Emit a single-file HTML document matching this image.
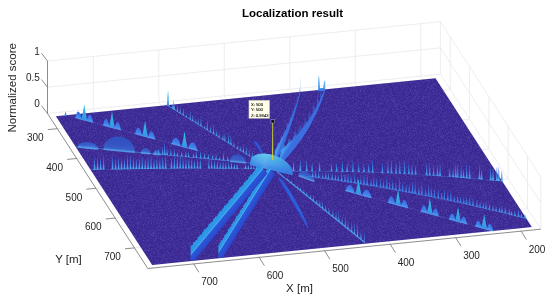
<!DOCTYPE html>
<html><head><meta charset="utf-8"><title>Localization result</title>
<style>html,body{margin:0;padding:0;background:#fff;overflow:hidden}</style></head>
<body>
<svg width="550" height="300" viewBox="0 0 550 300" style="display:block;font-family:'Liberation Sans',sans-serif">
<defs><filter id="nz" x="0" y="0" width="1" height="1" color-interpolation-filters="sRGB"><feTurbulence type="fractalNoise" baseFrequency="1.6" numOctaves="1" seed="3" result="t"/><feColorMatrix type="matrix" values="0 0 0 0 0.47  0 0 0 0 0.40  0 0 0 0 0.78  1.1 0 0 0 -0.44"/></filter><filter id="soft" x="-2%" y="-5%" width="104%" height="110%"><feGaussianBlur stdDeviation="0.32"/></filter><linearGradient id="r0" gradientUnits="userSpaceOnUse" x1="262" y1="169.3" x2="261.8" y2="116.8"><stop offset="0" stop-color="#4fb0ee"/><stop offset="0.05" stop-color="#449cec"/><stop offset="0.12" stop-color="#3b82e8"/><stop offset="0.25" stop-color="#3868e0"/><stop offset="0.5" stop-color="#3560d8"/></linearGradient>
<linearGradient id="r1" gradientUnits="userSpaceOnUse" x1="290" y1="171.3" x2="292.5" y2="118.9"><stop offset="0" stop-color="#4fb0ee"/><stop offset="0.05" stop-color="#449cec"/><stop offset="0.12" stop-color="#3b82e8"/><stop offset="0.25" stop-color="#3868e0"/><stop offset="0.5" stop-color="#3560d8"/></linearGradient>
<linearGradient id="r2" gradientUnits="userSpaceOnUse" x1="255" y1="163.6" x2="259.9" y2="111.6"><stop offset="0" stop-color="#4aa2ea"/><stop offset="0.05" stop-color="#4090e8"/><stop offset="0.12" stop-color="#3a78e4"/><stop offset="0.25" stop-color="#3864dc"/><stop offset="0.5" stop-color="#3560d8"/></linearGradient>
<linearGradient id="r3" gradientUnits="userSpaceOnUse" x1="170" y1="155.6" x2="174.9" y2="103.5"><stop offset="0" stop-color="#4aa2ea"/><stop offset="0.05" stop-color="#4090e8"/><stop offset="0.12" stop-color="#3a78e4"/><stop offset="0.25" stop-color="#3864dc"/><stop offset="0.5" stop-color="#3560d8"/></linearGradient>
<linearGradient id="r4" gradientUnits="userSpaceOnUse" x1="103.4" y1="149.2" x2="108.3" y2="97.2"><stop offset="0" stop-color="#58a4ea"/><stop offset="0.015" stop-color="#4584e0"/><stop offset="0.04" stop-color="#3964d0"/><stop offset="0.12" stop-color="#3358c8"/><stop offset="0.4" stop-color="#3050c0"/></linearGradient>
<linearGradient id="r5" gradientUnits="userSpaceOnUse" x1="77.6" y1="146.8" x2="82.5" y2="94.8"><stop offset="0" stop-color="#58a4ea"/><stop offset="0.015" stop-color="#4584e0"/><stop offset="0.04" stop-color="#3964d0"/><stop offset="0.12" stop-color="#3358c8"/><stop offset="0.4" stop-color="#3050c0"/></linearGradient>
<linearGradient id="r6" gradientUnits="userSpaceOnUse" x1="84.5" y1="147.4" x2="89.4" y2="95.4"><stop offset="0" stop-color="#4f9cf0"/><stop offset="0.04" stop-color="#3f80ea"/><stop offset="0.1" stop-color="#3a70e4"/><stop offset="0.3" stop-color="#3868e0"/></linearGradient>
<linearGradient id="r7" gradientUnits="userSpaceOnUse" x1="140.9" y1="152.8" x2="145.8" y2="100.8"><stop offset="0" stop-color="#58a4ea"/><stop offset="0.015" stop-color="#4584e0"/><stop offset="0.04" stop-color="#3964d0"/><stop offset="0.12" stop-color="#3358c8"/><stop offset="0.4" stop-color="#3050c0"/></linearGradient>
<linearGradient id="r8" gradientUnits="userSpaceOnUse" x1="153.2" y1="154" x2="158.1" y2="101.9"><stop offset="0" stop-color="#58a4ea"/><stop offset="0.015" stop-color="#4584e0"/><stop offset="0.04" stop-color="#3964d0"/><stop offset="0.12" stop-color="#3358c8"/><stop offset="0.4" stop-color="#3050c0"/></linearGradient>
<linearGradient id="r9" gradientUnits="userSpaceOnUse" x1="230" y1="161.2" x2="234.9" y2="109.2"><stop offset="0" stop-color="#58a4ea"/><stop offset="0.015" stop-color="#4584e0"/><stop offset="0.04" stop-color="#3964d0"/><stop offset="0.12" stop-color="#3358c8"/><stop offset="0.4" stop-color="#3050c0"/></linearGradient>
<linearGradient id="r10" gradientUnits="userSpaceOnUse" x1="300" y1="175.5" x2="309.7" y2="124.9"><stop offset="0" stop-color="#4aa2ea"/><stop offset="0.05" stop-color="#4090e8"/><stop offset="0.12" stop-color="#3a78e4"/><stop offset="0.25" stop-color="#3864dc"/><stop offset="0.5" stop-color="#3560d8"/></linearGradient>
<linearGradient id="r11" gradientUnits="userSpaceOnUse" x1="298.5" y1="175.6" x2="315.3" y2="129.2"><stop offset="0" stop-color="#58a4ea"/><stop offset="0.015" stop-color="#4584e0"/><stop offset="0.04" stop-color="#3964d0"/><stop offset="0.12" stop-color="#3358c8"/><stop offset="0.4" stop-color="#3050c0"/></linearGradient>
<linearGradient id="r12" gradientUnits="userSpaceOnUse" x1="198" y1="150.5" x2="211.1" y2="101.5"><stop offset="0" stop-color="#4f9cf0"/><stop offset="0.04" stop-color="#3f80ea"/><stop offset="0.1" stop-color="#3a70e4"/><stop offset="0.3" stop-color="#3868e0"/></linearGradient>
<linearGradient id="r13" gradientUnits="userSpaceOnUse" x1="188" y1="147.8" x2="201.2" y2="98.9"><stop offset="0" stop-color="#3a90e8"/><stop offset="0.08" stop-color="#32a4e6"/><stop offset="0.18" stop-color="#2cb4e2"/><stop offset="0.3" stop-color="#3cc2da"/></linearGradient>
<linearGradient id="r14" gradientUnits="userSpaceOnUse" x1="155.6" y1="139.1" x2="168.8" y2="90.1"><stop offset="0" stop-color="#4f9cf0"/><stop offset="0.04" stop-color="#3f80ea"/><stop offset="0.1" stop-color="#3a70e4"/><stop offset="0.3" stop-color="#3868e0"/></linearGradient>
<linearGradient id="r15" gradientUnits="userSpaceOnUse" x1="148.6" y1="137.2" x2="161.8" y2="88.2"><stop offset="0" stop-color="#3a90e8"/><stop offset="0.08" stop-color="#32a4e6"/><stop offset="0.18" stop-color="#2cb4e2"/><stop offset="0.3" stop-color="#3cc2da"/></linearGradient>
<linearGradient id="r16" gradientUnits="userSpaceOnUse" x1="121.4" y1="129.9" x2="134.6" y2="80.9"><stop offset="0" stop-color="#4f9cf0"/><stop offset="0.04" stop-color="#3f80ea"/><stop offset="0.1" stop-color="#3a70e4"/><stop offset="0.3" stop-color="#3868e0"/></linearGradient>
<linearGradient id="r17" gradientUnits="userSpaceOnUse" x1="115.5" y1="128.3" x2="128.7" y2="79.3"><stop offset="0" stop-color="#3a90e8"/><stop offset="0.08" stop-color="#32a4e6"/><stop offset="0.18" stop-color="#2cb4e2"/><stop offset="0.3" stop-color="#3cc2da"/></linearGradient>
<linearGradient id="r18" gradientUnits="userSpaceOnUse" x1="93.7" y1="122.4" x2="106.9" y2="73.5"><stop offset="0" stop-color="#4f9cf0"/><stop offset="0.04" stop-color="#3f80ea"/><stop offset="0.1" stop-color="#3a70e4"/><stop offset="0.3" stop-color="#3868e0"/></linearGradient>
<linearGradient id="r19" gradientUnits="userSpaceOnUse" x1="87.8" y1="120.8" x2="101" y2="71.9"><stop offset="0" stop-color="#3a90e8"/><stop offset="0.08" stop-color="#32a4e6"/><stop offset="0.18" stop-color="#2cb4e2"/><stop offset="0.3" stop-color="#3cc2da"/></linearGradient>
<linearGradient id="r20" gradientUnits="userSpaceOnUse" x1="345.1" y1="190.4" x2="358.5" y2="141.5"><stop offset="0" stop-color="#4f9cf0"/><stop offset="0.04" stop-color="#3f80ea"/><stop offset="0.1" stop-color="#3a70e4"/><stop offset="0.3" stop-color="#3868e0"/></linearGradient>
<linearGradient id="r21" gradientUnits="userSpaceOnUse" x1="355" y1="193.1" x2="368.4" y2="144.2"><stop offset="0" stop-color="#3a90e8"/><stop offset="0.08" stop-color="#32a4e6"/><stop offset="0.18" stop-color="#2cb4e2"/><stop offset="0.3" stop-color="#3cc2da"/></linearGradient>
<linearGradient id="r22" gradientUnits="userSpaceOnUse" x1="387.6" y1="202" x2="401" y2="153.1"><stop offset="0" stop-color="#4f9cf0"/><stop offset="0.04" stop-color="#3f80ea"/><stop offset="0.1" stop-color="#3a70e4"/><stop offset="0.3" stop-color="#3868e0"/></linearGradient>
<linearGradient id="r23" gradientUnits="userSpaceOnUse" x1="394.6" y1="203.9" x2="407.9" y2="155"><stop offset="0" stop-color="#3a90e8"/><stop offset="0.08" stop-color="#32a4e6"/><stop offset="0.18" stop-color="#2cb4e2"/><stop offset="0.3" stop-color="#3cc2da"/></linearGradient>
<linearGradient id="r24" gradientUnits="userSpaceOnUse" x1="420.5" y1="211" x2="433.9" y2="162.1"><stop offset="0" stop-color="#4f9cf0"/><stop offset="0.04" stop-color="#3f80ea"/><stop offset="0.1" stop-color="#3a70e4"/><stop offset="0.3" stop-color="#3868e0"/></linearGradient>
<linearGradient id="r25" gradientUnits="userSpaceOnUse" x1="426.4" y1="212.6" x2="439.7" y2="163.7"><stop offset="0" stop-color="#3a90e8"/><stop offset="0.08" stop-color="#32a4e6"/><stop offset="0.18" stop-color="#2cb4e2"/><stop offset="0.3" stop-color="#3cc2da"/></linearGradient>
<linearGradient id="r26" gradientUnits="userSpaceOnUse" x1="448.7" y1="218.7" x2="462.1" y2="169.8"><stop offset="0" stop-color="#4f9cf0"/><stop offset="0.04" stop-color="#3f80ea"/><stop offset="0.1" stop-color="#3a70e4"/><stop offset="0.3" stop-color="#3868e0"/></linearGradient>
<linearGradient id="r27" gradientUnits="userSpaceOnUse" x1="454.6" y1="220.3" x2="467.9" y2="171.4"><stop offset="0" stop-color="#3a90e8"/><stop offset="0.08" stop-color="#32a4e6"/><stop offset="0.18" stop-color="#2cb4e2"/><stop offset="0.3" stop-color="#3cc2da"/></linearGradient>
<linearGradient id="r28" gradientUnits="userSpaceOnUse" x1="474.8" y1="225.8" x2="488.2" y2="177"><stop offset="0" stop-color="#4f9cf0"/><stop offset="0.04" stop-color="#3f80ea"/><stop offset="0.1" stop-color="#3a70e4"/><stop offset="0.3" stop-color="#3868e0"/></linearGradient>
<linearGradient id="r29" gradientUnits="userSpaceOnUse" x1="480.7" y1="227.4" x2="494.1" y2="178.6"><stop offset="0" stop-color="#3a90e8"/><stop offset="0.08" stop-color="#32a4e6"/><stop offset="0.18" stop-color="#2cb4e2"/><stop offset="0.3" stop-color="#3cc2da"/></linearGradient>
<linearGradient id="r30" gradientUnits="userSpaceOnUse" x1="63" y1="115" x2="74.6" y2="65.2"><stop offset="0" stop-color="#3a90e8"/><stop offset="0.08" stop-color="#32a4e6"/><stop offset="0.18" stop-color="#2cb4e2"/><stop offset="0.3" stop-color="#3cc2da"/></linearGradient>
<linearGradient id="r31" gradientUnits="userSpaceOnUse" x1="250" y1="162.3" x2="262" y2="112.7"><stop offset="0" stop-color="#3f8ee8"/><stop offset="0.05" stop-color="#489eec"/><stop offset="0.12" stop-color="#4aaeea"/><stop offset="0.2" stop-color="#55bcea"/><stop offset="0.3" stop-color="#6ccaee"/></linearGradient>
<linearGradient id="r32" gradientUnits="userSpaceOnUse" x1="264.5" y1="165.5" x2="288" y2="127.5"><stop offset="0" stop-color="#4fb0ee"/><stop offset="0.05" stop-color="#449cec"/><stop offset="0.12" stop-color="#3b82e8"/><stop offset="0.25" stop-color="#3868e0"/><stop offset="0.5" stop-color="#3560d8"/></linearGradient>
<linearGradient id="r33" gradientUnits="userSpaceOnUse" x1="176.9" y1="111.4" x2="200.4" y2="73.4"><stop offset="0" stop-color="#4fb0ee"/><stop offset="0.05" stop-color="#449cec"/><stop offset="0.12" stop-color="#3b82e8"/><stop offset="0.25" stop-color="#3868e0"/><stop offset="0.5" stop-color="#3560d8"/></linearGradient>
<linearGradient id="r34" gradientUnits="userSpaceOnUse" x1="172.4" y1="108.6" x2="195.9" y2="70.6"><stop offset="0" stop-color="#3a90e8"/><stop offset="0.08" stop-color="#32a4e6"/><stop offset="0.18" stop-color="#2cb4e2"/><stop offset="0.3" stop-color="#3cc2da"/></linearGradient>
<linearGradient id="r35" gradientUnits="userSpaceOnUse" x1="263.5" y1="156.3" x2="287.4" y2="140.8"><stop offset="0" stop-color="#2c50d4"/><stop offset="0.05" stop-color="#2c5cdc"/><stop offset="0.12" stop-color="#2f66e2"/></linearGradient>
<linearGradient id="r36" gradientUnits="userSpaceOnUse" x1="277" y1="171.8" x2="302.7" y2="140"><stop offset="0" stop-color="#4fb0ee"/><stop offset="0.05" stop-color="#449cec"/><stop offset="0.12" stop-color="#3b82e8"/><stop offset="0.25" stop-color="#3868e0"/><stop offset="0.5" stop-color="#3560d8"/></linearGradient>
<linearGradient id="r37" gradientUnits="userSpaceOnUse" x1="272.5" y1="169" x2="255.6" y2="162.9"><stop offset="0" stop-color="#3a6ee0"/><stop offset="0.04" stop-color="#3c84e8"/><stop offset="0.1" stop-color="#4098ee"/><stop offset="0.2" stop-color="#44a6f0"/><stop offset="0.3" stop-color="#4aaaf0"/><stop offset="0.45" stop-color="#3f8fe8"/></linearGradient>
<linearGradient id="r38" gradientUnits="userSpaceOnUse" x1="276" y1="168.5" x2="252.3" y2="153.6"><stop offset="0" stop-color="#3a6ee0"/><stop offset="0.04" stop-color="#3c84e8"/><stop offset="0.1" stop-color="#4098ee"/><stop offset="0.2" stop-color="#44a6f0"/><stop offset="0.3" stop-color="#4aaaf0"/><stop offset="0.45" stop-color="#3f8fe8"/></linearGradient>
<linearGradient id="r39" gradientUnits="userSpaceOnUse" x1="318.2" y1="91.4" x2="312.7" y2="39.5"><stop offset="0" stop-color="#3a6ee0"/><stop offset="0.04" stop-color="#3c84e8"/><stop offset="0.1" stop-color="#4098ee"/><stop offset="0.2" stop-color="#44a6f0"/><stop offset="0.3" stop-color="#4aaaf0"/><stop offset="0.45" stop-color="#3f8fe8"/></linearGradient>
<linearGradient id="r40" gradientUnits="userSpaceOnUse" x1="269.8" y1="170.6" x2="234" y2="140.6"><stop offset="0" stop-color="#2e40c0"/><stop offset="0.03" stop-color="#2b4cd0"/><stop offset="0.125" stop-color="#2a58d8"/><stop offset="0.14" stop-color="#4cb2f0"/><stop offset="0.158" stop-color="#2e9ae8"/><stop offset="0.3" stop-color="#2a92e6"/><stop offset="0.36" stop-color="#8fd4f4"/></linearGradient>
<linearGradient id="r41" gradientUnits="userSpaceOnUse" x1="277" y1="171" x2="238.3" y2="146.8"><stop offset="0" stop-color="#2e40c0"/><stop offset="0.03" stop-color="#2b4cd0"/><stop offset="0.125" stop-color="#2a58d8"/><stop offset="0.14" stop-color="#4cb2f0"/><stop offset="0.158" stop-color="#2e9ae8"/><stop offset="0.3" stop-color="#2a92e6"/><stop offset="0.36" stop-color="#8fd4f4"/></linearGradient>
<linearGradient id="r42" gradientUnits="userSpaceOnUse" x1="278.5" y1="178.5" x2="301.6" y2="164.8"><stop offset="0" stop-color="#2c50d4"/><stop offset="0.05" stop-color="#2c5cdc"/><stop offset="0.12" stop-color="#2f66e2"/></linearGradient>
<linearGradient id="mshade" gradientUnits="userSpaceOnUse" x1="250" y1="0" x2="293" y2="0"><stop offset="0" stop-color="#2c66d8" stop-opacity="0.12"/><stop offset="0.35" stop-color="#ffffff" stop-opacity="0.1"/><stop offset="0.55" stop-color="#2c66d8" stop-opacity="0.05"/><stop offset="1" stop-color="#2a5cd4" stop-opacity="0.5"/></linearGradient></defs>
<rect width="550" height="300" fill="#fff"/>
<line x1="93.3" y1="108.9" x2="93.3" y2="56.4" stroke="#e8e8e8" stroke-width="0.8"/>
<line x1="93.3" y1="108.9" x2="193.7" y2="263.9" stroke="#e8e8e8" stroke-width="0.8"/>
<line x1="158.8" y1="102.4" x2="158.8" y2="49.9" stroke="#e8e8e8" stroke-width="0.8"/>
<line x1="158.8" y1="102.4" x2="259.2" y2="257.3" stroke="#e8e8e8" stroke-width="0.8"/>
<line x1="224.3" y1="95.8" x2="224.3" y2="43.3" stroke="#e8e8e8" stroke-width="0.8"/>
<line x1="224.3" y1="95.8" x2="324.7" y2="250.8" stroke="#e8e8e8" stroke-width="0.8"/>
<line x1="289.8" y1="89.3" x2="289.8" y2="36.8" stroke="#e8e8e8" stroke-width="0.8"/>
<line x1="289.8" y1="89.3" x2="390.2" y2="244.2" stroke="#e8e8e8" stroke-width="0.8"/>
<line x1="355.3" y1="82.7" x2="355.3" y2="30.2" stroke="#e8e8e8" stroke-width="0.8"/>
<line x1="355.3" y1="82.7" x2="455.7" y2="237.7" stroke="#e8e8e8" stroke-width="0.8"/>
<line x1="420.8" y1="76.2" x2="420.8" y2="23.7" stroke="#e8e8e8" stroke-width="0.8"/>
<line x1="420.8" y1="76.2" x2="521.2" y2="231.1" stroke="#e8e8e8" stroke-width="0.8"/>
<line x1="47.5" y1="113.5" x2="440.4" y2="74.2" stroke="#e8e8e8" stroke-width="0.8"/>
<line x1="440.4" y1="74.2" x2="540.8" y2="229.2" stroke="#e8e8e8" stroke-width="0.8"/>
<line x1="47.5" y1="87.2" x2="440.4" y2="47.9" stroke="#e8e8e8" stroke-width="0.8"/>
<line x1="440.4" y1="47.9" x2="540.8" y2="202.9" stroke="#e8e8e8" stroke-width="0.8"/>
<line x1="47.5" y1="61" x2="440.4" y2="21.7" stroke="#e8e8e8" stroke-width="0.8"/>
<line x1="440.4" y1="21.7" x2="540.8" y2="176.7" stroke="#e8e8e8" stroke-width="0.8"/>
<line x1="450.3" y1="89.4" x2="450.3" y2="36.9" stroke="#e8e8e8" stroke-width="0.8"/>
<line x1="450.3" y1="89.4" x2="57.3" y2="128.7" stroke="#e8e8e8" stroke-width="0.8"/>
<line x1="469.6" y1="119.2" x2="469.6" y2="66.7" stroke="#e8e8e8" stroke-width="0.8"/>
<line x1="469.6" y1="119.2" x2="76.6" y2="158.5" stroke="#e8e8e8" stroke-width="0.8"/>
<line x1="488.9" y1="149" x2="488.9" y2="96.5" stroke="#e8e8e8" stroke-width="0.8"/>
<line x1="488.9" y1="149" x2="95.9" y2="188.3" stroke="#e8e8e8" stroke-width="0.8"/>
<line x1="508.2" y1="178.8" x2="508.2" y2="126.3" stroke="#e8e8e8" stroke-width="0.8"/>
<line x1="508.2" y1="178.8" x2="115.2" y2="218.1" stroke="#e8e8e8" stroke-width="0.8"/>
<line x1="527.5" y1="208.6" x2="527.5" y2="156.1" stroke="#e8e8e8" stroke-width="0.8"/>
<line x1="527.5" y1="208.6" x2="134.5" y2="247.9" stroke="#e8e8e8" stroke-width="0.8"/>
<line x1="440.4" y1="74.2" x2="440.4" y2="21.7" stroke="#e8e8e8" stroke-width="0.8"/>
<line x1="540.8" y1="229.2" x2="540.8" y2="176.7" stroke="#e8e8e8" stroke-width="0.8"/>
<clipPath id="cs"><polygon points="55.9,116.3 435.5,78.3 531.8,227 152.2,265"/></clipPath>
<polygon points="55.9,116.3 435.5,78.3 531.8,227 152.2,265" fill="#382691"/>
<g clip-path="url(#cs)"><rect x="40" y="70" width="500" height="200" filter="url(#nz)"/></g>
<g filter="url(#soft)"><path d="M172.4,108.6 172.4,108.6 170,107.1 169.7,106.8 169.5,106.6 169.3,106.1 169.1,105.3 169,103.9 168.8,101.7 168.6,98.8 168.5,95.5 168.3,92.6 168.1,90.9 168,90.9 167.8,92.5 167.6,95.3 167.4,98.3 167.3,100.9 167.1,102.9 166.9,104 166.9,105.2Z" fill="url(#r34)"/>
<path d="M176.9,111.4 176.9,111.4 174.6,109.9 174.3,109.7 174.2,109.4 174.1,108.8 173.9,107.6 173.8,105.8 173.6,101.4 173.4,100.3 173.3,100.8 173.2,102.5 173.1,104.6 172.9,106.5 172.8,107.7 172.7,108.3 172.4,108.6 170.3,107.3 170.3,107.3Z" fill="url(#r33)"/>
<path d="M63,115 64,115.2 64.4,115.1 64.5,114.9 64.7,114.4 65.3,112.2 65.5,111.7 65.7,111.7 65.9,112.3 66.3,114 66.5,114.8 66.7,115.3 67.1,115.9 68.6,116.3 68.6,116.3 63,115Z" fill="url(#r30)"/>
<path d="M87.8,121.3 87.8,120.8 87.5,120.7 87.3,120.1 87.1,119.4 86.6,117.6 86.1,115.3 85.6,112.7 85.1,109.7 84.7,106.5 84.4,104.8 84.2,104.7 83.7,107.8 83.2,110.6 82.7,113.2 82.2,115.4 81.8,117.2 81.5,117.9 81.3,118.5 81,118.9 80.8,119 80.8,119.5Z" fill="url(#r19)"/>
<path d="M93.7,123.1 93.7,122.4 93.1,122.2 92.8,120.4 92.5,119.1 92.2,118.1 91.9,117.2 91.6,116.5 91.3,115.9 91,115.4 90.7,115.1 90.4,114.8 90.1,114.7 89.7,114.7 89.4,114.8 89.1,115 88.8,115.3 88.5,115.8 88.2,116.3 87.9,117.1 87.6,118 87.3,119.1 87,120.6 81.6,119.2 81.3,117.5 81,116.2 80.7,115.1 80.4,114.2 80.1,113.5 79.7,112.9 79.4,112.4 79.1,112 78.8,111.8 78.5,111.6 78.2,111.6 77.9,111.7 77.6,111.8 77.3,112.1 77,112.6 76.7,113.1 76.4,113.8 76.1,114.7 75.8,115.8 75.5,117.5 74.9,117.4 74.9,118.1Z" fill="url(#r18)"/>
<path d="M115.5,128.8 115.5,128.3 115.3,128.1 115,127.6 114.8,126.9 114.3,125 113.8,122.8 113.3,120.1 112.9,117.2 112.4,113.9 112.1,112.2 111.9,112.2 111.4,115.3 110.9,118.1 110.4,120.7 110,122.9 109.5,124.7 109.2,125.4 109,126 108.8,126.4 108.5,126.4 108.5,126.9Z" fill="url(#r17)"/>
<path d="M121.4,130.6 121.4,129.9 120.8,129.7 120.5,127.8 120.2,126.6 119.9,125.5 119.6,124.7 119.3,123.9 119,123.4 118.7,122.9 118.4,122.5 118.1,122.3 117.8,122.2 117.5,122.2 117.2,122.3 116.9,122.5 116.6,122.8 116.3,123.2 115.9,123.8 115.6,124.5 115.3,125.4 115,126.6 114.7,128.1 109.3,126.6 109,125 108.7,123.6 108.4,122.6 108.1,121.7 107.8,120.9 107.5,120.3 107.2,119.8 106.9,119.5 106.6,119.2 106.3,119.1 105.9,119 105.6,119.1 105.3,119.3 105,119.6 104.7,120 104.4,120.6 104.1,121.3 103.8,122.2 103.5,123.3 103.2,124.9 102.6,124.8 102.6,125.5Z" fill="url(#r16)"/>
<path d="M148.6,137.7 148.6,137.2 148.3,137 148.1,136.5 147.9,135.8 147.4,134 146.9,131.7 146.4,129 145.9,126.1 145.4,122.8 145.2,121.1 145,121.1 144.5,124.2 144,127 143.5,129.6 143,131.8 142.6,133.6 142.3,134.3 142.1,134.9 141.8,135.3 141.6,135.3 141.6,135.8Z" fill="url(#r15)"/>
<path d="M155.6,139.8 155.6,139.1 155,138.8 154.7,137.2 154.4,136 154.1,135 153.8,134.2 153.4,133.5 153.1,132.9 152.5,132 151.9,131.4 151.3,131.2 150.7,131.4 150.1,131.9 149.8,132.4 149.5,132.9 149.2,133.5 148.9,134.3 148.6,135.3 148.3,136.6 148,137 142.2,135.5 141.9,134.9 141.6,133.4 141.3,132.3 141,131.3 140.7,130.5 140.4,129.8 140.1,129.2 139.5,128.4 138.8,127.9 138.2,127.7 137.6,127.9 137,128.5 136.7,129 136.4,129.5 136.1,130.2 135.8,131 135.5,132 135.2,133.5 134.6,133.4 134.6,134.1Z" fill="url(#r14)"/>
<path d="M188,148.3 188,147.8 187.8,147.6 187.6,147.1 187.3,146.4 186.8,144.6 186.4,142.3 185.9,139.7 185.4,136.7 184.9,133.5 184.7,131.7 184.4,131.7 183.9,134.8 183.5,137.6 183,140.2 182.5,142.4 182,144.2 181.8,144.9 181.5,145.5 181.3,145.9 181,145.9 181,146.4Z" fill="url(#r13)"/>
<path d="M84.5,147.4 84.9,146.3 85.3,145.9 86.1,145.4 86.9,145 88,144.8 89.2,144.7 90.4,144.8 91.6,145 92.8,145.5 93.5,145.8 94.3,146.4 94.7,146.8 95.1,147.3 95.5,148.5 95.5,149.4 84.5,148.3Z" fill="url(#r6)" opacity="0.8"/>
<path d="M77.6,146.8 78.3,144.8 79.1,144 79.8,143.5 80.6,143.2 81.3,142.9 82.1,142.6 82.8,142.4 84.3,142.2 85.8,142.1 87.3,142.1 88.7,142.3 90.2,142.5 91.7,142.9 93.2,143.4 93.9,143.7 94.7,144.1 95.4,144.6 96.2,145.1 96.9,145.7 97.7,146.6 98.4,148.8 98.4,149.7 77.6,147.7Z" fill="url(#r5)" opacity="0.9"/>
<path d="M318.2,82.7 318.5,78.6 318.6,77 318.7,76 318.9,75.6 319,75.9 319.1,77 319.3,78.6 319.7,84.5 319.8,86.3 319.9,87.8 320,88.3 323.3,88 323.5,87.6 323.7,84.8 324,82 324.1,80.9 324.3,80.3 324.4,80.3 324.5,80.9 324.7,81.9 324.8,83.2 324.8,90.7 318.2,91.4Z" fill="url(#r39)"/>
<path d="M272.5,169 273.6,166.9 273.8,164.5 273.9,162.8 274.1,160 274.1,159 274.2,159.1 274.3,159.3 274.5,157.3 274.7,155.6 274.8,152.8 274.8,151.7 274.9,151.4 275,152.1 275.3,150.3 275.4,149.4 275.5,148.5 275.7,149.3 276.1,148.7 276.3,148.2 276.7,147.8 276.9,147 277,145.8 277.1,146 277.2,146.8 277.4,146.5 277.5,145.2 277.6,143 277.7,142.7 277.9,145.2 278,145.5 278.2,145 278.3,142.1 278.4,141.8 278.5,143.9 278.6,144.4 278.8,143.9 279,142.7 279.1,142.6 279.2,143.2 279.6,142.5 279.8,141.8 280.2,141.6 280.3,140.9 280.4,138.9 280.5,139.5 280.6,140.5 280.8,140.3 280.9,139.5 281,136.9 281.1,135.9 281.1,136 281.3,139 281.5,139.1 281.6,138.5 281.7,135.5 281.8,135.5 281.9,137.8 282.1,137.8 282.3,136.4 282.6,136.9 282.9,136.2 283.1,135.2 283.3,135.5 283.4,135.1 283.5,134.1 283.6,132.1 283.7,131.7 283.8,133.8 284,134 284.1,133.5 284.3,129.5 284.3,128.9 284.3,129.4 284.4,132 284.5,132.9 284.7,132.4 284.9,129.6 284.9,129 285,130.1 285.1,131.5 285.3,131.3 285.5,130.1 285.7,130.4 286,129.9 286.1,128.4 286.4,129 286.6,128.5 286.6,126.9 286.7,124.6 286.8,124.5 286.9,127.4 287.1,127.5 287.2,126.7 287.3,122.2 287.4,121.9 287.5,125.8 287.6,126.4 287.7,126.1 287.8,124.9 287.9,122.9 287.9,122.6 288.1,124.7 288.3,124.8 288.5,123.6 288.8,123.5 289,122.8 289.1,121.2 289.3,122.4 289.4,122.1 289.5,120.8 289.6,117.8 289.6,116.9 289.7,117.3 289.8,120 289.9,121 290,120.5 290.1,119.6 290.2,116.1 290.2,114.9 290.2,115.2 290.3,118.3 290.4,119.7 290.6,119.3 290.6,118 290.7,116.3 290.8,116.9 290.9,118.2 291.1,117.9 291.3,116.9 291.6,116.7 291.7,116.2 291.8,114 291.9,114.1 292,115.4 292.2,115.2 292.3,113.3 292.3,109.7 292.4,109.2 292.4,110.2 292.5,113.4 292.6,114.2 292.7,113.9 292.8,112.2 292.9,108.6 292.9,107.9 292.9,108.7 293,111.9 293.1,112.9 293.2,112.4 293.4,110.1 293.4,110 293.6,111.5 293.8,111 293.9,110 294.2,109.8 294.3,109 294.4,106.1 294.5,106.9 294.6,108.6 294.7,108.4 294.8,107.2 294.9,103.2 294.9,101.7 294.9,101.8 295.1,106.7 295.2,107.1 295.3,106.2 295.4,101.2 295.4,101.1 295.5,105.3 295.7,105.7 295.8,104.7 295.9,103.3 295.9,103.5 296,104.6 296.2,103.9 296.4,102.7 296.6,103.1 296.7,102.3 296.8,98.6 296.8,98 296.9,101 297,101.7 297.1,101.3 297.2,99.4 297.3,94.9 297.3,93.7 297.3,94.5 297.4,98.7 297.5,100.2 297.6,99.6 297.7,97 297.7,94.1 297.8,94.5 297.8,97.5 297.9,98.8 298,98.4 298.2,96.5 298.3,97.5 298.5,96.6 298.6,95.2 298.8,96 298.9,95.4 299,93.3 299,90 299.1,89.8 299.2,93.9 299.3,94.3 299.4,93.2 299.5,86.5 299.5,86.1 299.6,91.9 299.7,93 299.7,92.7 299.8,91 299.9,87.7 299.9,87.2 300,90.8 300,91.5 300.1,90.1 300.2,79 300.2,77.4 300.2,77.3 300.3,78.6 300.3,81 300.3,92.6 300.2,92.9 299,98 297.7,103.1 296.3,108.1 294.8,113.1 293.3,118 291.7,122.9 290.1,127.7 288.4,132.5 286.6,137.3 284.8,141.9 282.9,146.6 281,151.2 278.9,155.7 276.9,160.2 274.7,164.6 272.5,169Z" fill="url(#r37)"/>
<path d="M198,151.2 198,150.5 197.4,150.3 197.1,148.9 196.8,147.9 196.5,147 195.9,145.6 195.3,144.5 194.6,143.7 194,143 193.4,142.6 192.8,142.4 192.2,142.4 191.6,142.6 191,143 190.4,143.6 189.8,144.5 189.5,145.1 189.2,145.8 188.9,146.6 188.6,147.8 188.3,147.9 180.8,145.9 180.5,145.6 180.2,144.3 179.9,143.3 179.6,142.4 179,141 178.4,139.9 177.8,139.1 177.2,138.5 176.6,138.1 175.9,137.8 175.3,137.8 174.7,138 174.1,138.5 173.5,139.1 172.9,140 172.6,140.6 172.3,141.3 172,142.2 171.7,143.4 171.1,143.3 171.1,144Z" fill="url(#r12)"/>
<line x1="200.4" y1="151.2" x2="66.9" y2="115.2" stroke="#5a7ce0" stroke-width="0.7" opacity="0.3"/>
<path d="M276,168.5 277.9,166.7 278,163.8 278.1,162.9 278.2,162.8 278.5,163.6 278.6,163.6 279,161.6 279.2,160.3 279.5,158.1 279.9,156.6 280.4,154 280.6,152.7 280.9,150 281,149.6 281,149.5 281.2,150 281.6,149.8 281.7,149.6 281.8,148.9 282,146.2 282.1,145.2 282.2,145.3 282.4,147.7 282.5,148.6 282.6,148.9 282.9,148.7 283,148.5 283.1,147.8 283.2,146.3 283.3,144.4 283.4,143.1 283.5,143 283.6,144.3 283.7,146 283.8,147.3 283.9,147.8 284.3,147.5 284.4,147.1 284.6,144.3 284.7,144.2 285,146.4 285.2,146.7 285.6,146.4 285.9,145.5 286.1,145.4 286.3,145.7 286.8,145.3 287,144.6 287.2,143.2 287.3,142.8 287.4,143 287.6,144.2 287.7,144.4 288,144.1 288.1,143.7 288.2,142.7 288.4,139.2 288.5,138.3 288.6,139 288.7,142.2 288.8,143.1 289,143.2 289.2,143 289.3,142.7 289.4,141.6 289.6,137.8 289.7,136.7 289.7,137.2 289.9,140.7 290,141.8 290.1,142.1 290.4,141.9 290.6,141.3 290.7,139.3 290.8,138.7 290.9,138.8 291.1,140.3 291.2,140.9 291.5,140.8 291.8,140.3 292.1,139.6 292.4,139.9 292.8,139.6 292.9,139 293.2,136.3 293.3,136.1 293.6,138.3 293.7,138.6 294,138.2 294.1,137.5 294.2,135.9 294.2,133.6 294.3,131.8 294.4,131.4 294.5,132.7 294.6,134.8 294.7,136.5 294.8,137.3 295,137.2 295.1,137.1 295.2,136.5 295.3,135.1 295.4,131 295.5,130.4 295.6,131.4 295.8,135.1 295.9,136 296.1,136.1 296.3,135.7 296.5,133.3 296.6,133 296.7,133.3 296.9,134.7 297,135 297.4,134.5 297.7,133.6 297.8,133.4 298.1,133.8 298.4,133.5 298.5,133.2 298.6,132.5 298.7,129.8 298.8,128.9 298.9,129.1 299.1,131.5 299.1,132.3 299.4,132.4 299.5,131.9 299.6,130.8 299.7,128.6 299.8,125.9 299.9,124.2 299.9,124.5 300,126.4 300.1,128.9 300.2,130.6 300.3,131.2 300.5,131 300.6,130.8 300.7,130 300.7,128.2 300.8,126 300.9,124.4 301,124.3 301,125.8 301.1,127.8 301.2,129.3 301.3,129.9 301.6,129.7 301.7,128.8 301.9,127.3 302,127.2 302.2,128.6 302.6,128.5 302.8,127.8 303,126.9 303.1,126.8 303.3,127.4 303.6,127.2 303.7,126.6 303.8,125.4 304,121.9 304,121.2 304.1,122 304.3,125.2 304.3,126 304.6,126 304.6,125.8 304.7,125.2 304.8,123.5 304.9,118 305,116.7 305.1,117.7 305.2,122.9 305.3,124.4 305.4,124.8 305.6,124.6 305.7,124.2 305.7,123.1 305.9,119 305.9,117.9 306,118.4 306.2,122 306.2,123.2 306.4,123.5 306.6,123.2 306.9,121.1 307,121.6 307.2,122.3 307.5,121.9 307.7,121.4 307.9,119.6 307.9,119.5 308.1,120.8 308.4,120.6 308.5,120.4 308.6,119.5 308.6,117.7 308.7,115.4 308.8,113.5 308.8,113.3 308.9,114.8 309,117.1 309,118.8 309.1,119.5 309.3,119.3 309.4,119.1 309.5,118.1 309.5,115.9 309.6,112.6 309.7,109.9 309.7,109.4 309.8,111.2 309.9,114.2 309.9,116.7 310,118 310.2,118 310.3,117.3 310.4,116 310.5,112.1 310.6,111.5 310.7,112.5 310.8,115.9 310.9,116.7 311.1,116.6 311.3,116 311.4,115 311.5,114.8 311.7,115.5 312,115.1 312.2,114.3 312.3,112.4 312.3,111.8 312.4,112 312.5,113.6 312.7,114.1 312.9,113.8 312.9,113.3 313,111.9 313.1,106.6 313.2,104.9 313.2,105.4 313.4,110.4 313.4,112.1 313.5,112.7 313.7,112.4 313.7,112 313.8,110.6 313.9,107.7 313.9,104.3 314,102 314,102.3 314.1,104.9 314.2,108.1 314.2,110.3 314.3,111.2 314.5,111.1 314.6,110.2 314.7,106.7 314.8,105.4 314.8,105.3 315,109.4 315.1,109.9 315.4,109.4 315.5,108.1 315.7,108 315.8,108.5 316.1,108 316.3,106.7 316.4,104 316.4,103.5 316.5,104.1 316.6,106.5 316.7,107 316.9,106.6 316.9,105.8 317,103.7 317.1,97.4 317.2,96.2 317.2,97.7 317.3,103.7 317.4,105.2 317.6,105.4 317.7,104.6 317.7,102.6 317.8,96 317.9,94.4 318,95.6 318.1,101.7 318.1,103.6 318.2,104.1 318.3,103.9 318.4,103.6 318.4,102.7 318.6,99.6 318.6,98.7 318.7,99.1 318.8,101.7 318.8,102.5 319.1,102.3 319.4,100.6 319.6,101.3 319.8,100.9 319.9,99.8 320,95 320.1,94.9 320.3,99.2 320.4,99.7 320.5,99.1 320.6,97.7 320.6,94.9 320.7,91 320.7,88 320.8,87.7 320.8,90.2 320.9,93.9 320.9,96.8 321,98 321.1,98 321.2,97.7 321.2,96.7 321.3,94.3 321.4,87.8 321.4,87.2 321.5,89.1 321.6,95.1 321.6,96.4 321.8,96.4 321.9,95.1 322,92.4 322,92 322.2,94.7 322.3,95.3 322.5,94.5 322.7,93 322.8,92.8 322.9,93.7 323.1,93.3 323.1,92.8 323.2,91.5 323.3,86.9 323.3,85.6 323.4,86.2 323.5,90.5 323.5,91.8 323.6,92 323.7,91.2 323.8,89.2 323.9,81.3 323.9,78.8 323.9,79.6 324,87 324.1,89.6 324.1,90.5 324.3,90.3 324.3,89.9 324.3,88.5 324.4,82.3 324.5,80 324.5,80.3 324.6,85.9 324.6,88.1 324.7,89 324.8,88.9 324.8,88.5 325,82.7 325.1,80.9 325.2,81.2 325.2,82 325.2,90.4 324.9,91.2 323.1,96.8 321.1,102.3 318.9,107.7 316.5,112.9 314,118.1 311.4,123.2 308.6,128.2 305.6,133.1 302.4,137.9 299.1,142.5 295.7,147.1 292.1,151.6 288.3,156 284.4,160.2 280.3,164.4 276,168.5Z" fill="url(#r38)"/>
<path d="M103.4,149.2 104.5,144.1 105.7,142.1 106.8,140.8 107.9,139.7 109.1,138.9 110.2,138.2 111.3,137.7 112.5,137.3 113.6,136.9 114.8,136.7 115.9,136.5 117,136.5 118.2,136.5 119.3,136.5 120.4,136.7 121.6,136.9 122.7,137.2 123.8,137.6 125,138 126.1,138.6 127.2,139.2 128.4,139.9 129.5,140.8 130.7,141.9 131.8,143.1 132.9,144.7 134.1,146.9 135.2,152.2 135.2,153.1 103.4,150.1Z" fill="url(#r4)" opacity="0.9"/>
<path d="M140.9,152.8 141.2,151 141.6,150.3 141.9,149.8 142.6,149.1 143.3,148.7 144,148.4 145,148.2 146,148.3 147.1,148.6 147.8,148.9 148.4,149.4 149.1,150.1 149.5,150.5 149.8,151.1 150.2,151.8 150.5,153.7 150.5,154.6 140.9,153.7Z" fill="url(#r7)" opacity="0.9"/>
<path d="M153.2,154 153.5,152.4 153.7,151.8 154.3,151 154.8,150.6 155.6,150.2 156.5,150 157.3,150.1 158.1,150.3 158.9,150.8 159.4,151.3 160,151.9 160.3,152.4 160.5,153.1 160.8,154.7 160.8,155.6 153.2,154.9Z" fill="url(#r8)" opacity="0.9"/>
<path d="M170,155.6 166.3,155.2 165.9,155 165.7,154.6 165.5,153.7 165.3,151.7 165.1,148.6 164.9,145.1 164.7,142.8 164.5,142.8 164.3,145.1 164.1,148.5 163.9,151.5 163.7,153.5 163.5,154.4 163.3,154.8 160,154.6 160,154.6 170,155.6Z" fill="url(#r3)"/>
<path d="M263.5,157.1 263.5,156.3 263.2,154.5 262.9,153.5 262.3,151.9 261.7,150.6 260.9,148.7 260,147.1 258.8,145.2 257.7,143.6 256.8,142.5 256,141.6 255.4,141.2 254.8,141 254.5,141.1 254.2,142 254.2,142.8Z" fill="url(#r35)"/>
<line x1="260.4" y1="163" x2="166.9" y2="105.2" stroke="#5a7ce0" stroke-width="0.7" opacity="0.4"/>
<path d="M230,161.2 230.6,158.5 231.1,157.4 231.7,156.7 232.3,156.1 232.9,155.7 233.4,155.3 234,155 234.6,154.8 235.7,154.5 236.9,154.4 238,154.4 239.1,154.6 240.3,154.9 241.4,155.4 242,155.8 242.6,156.2 243.1,156.7 243.7,157.2 244.3,157.9 244.9,158.7 245.4,159.9 246,162.7 246,163.6 230,162.1Z" fill="url(#r9)" opacity="0.9"/>
<path d="M255,163.6 L75.6,146.6" fill="none" stroke="#5a7ce0" stroke-width="0.7" opacity="0.3"/>
<path d="M255,163.2 229.3,160.7 228.8,160.6 228.5,159.9 228.2,158.2 227.9,156 227.7,155.5 227.4,157.3 227.1,159.4 226.9,160.3 226.6,160.5 225,160.3 224.7,160.3 224.4,160.1 224.2,159.1 223.9,156.7 223.6,153.7 223.3,153.3 222.8,158.7 222.5,159.8 222.3,160 220.9,159.9 220.6,159.8 220.4,159.2 219.8,156.5 219.6,156.5 219.3,158 219,159.2 218.7,159.6 217.7,159.6 217.1,159.5 216.8,159 216.6,157.4 216.3,155 216,154.1 215.8,155.7 215.5,157.9 215.2,159.1 215,159.3 213.9,159.3 213.6,159.2 213.3,158.8 213.1,157.5 212.8,155.7 212.5,154.9 212.2,156.2 212,157.9 211.7,158.8 211.4,159 209.8,158.9 209.5,158.8 209.3,158.6 209,157.8 208.5,154 208.2,154.2 207.9,156.3 207.6,157.9 207.4,158.5 207.1,158.6 206,158.5 205.8,158.5 205.5,158.1 205.2,156.9 204.9,154.4 204.7,152.5 204.4,153.3 204.1,155.9 203.9,157.6 203.6,158.2 203,158.3 202,158.1 201.7,158 201.4,157.5 201.2,155.9 200.9,153 200.6,151.3 200.3,152.9 200.1,155.8 199.8,157.4 199.5,157.8 197.9,157.8 197.4,157.6 197.1,157.1 196.8,155.5 196.6,152.6 196.3,151 196,152.6 195.7,155.4 195.5,157 195.2,157.4 194.7,157.4 194.4,157.2 194.1,156.3 193.8,154.6 193.6,153.3 193.3,153.9 193,155.6 192.8,156.8 192.5,157.2 190.1,157 189.8,157 189.5,156.7 189.2,155.7 189,153.6 188.7,152 188.4,152.7 188.2,154.8 187.9,156.3 187.6,156.7 187.1,156.7 186.8,156.5 186.5,155.7 186,151.5 185.7,151.6 185.5,153.8 185.2,155.7 184.9,156.4 184.6,156.5 183,156.4 182.8,156.3 182.5,156.1 182.2,155.3 181.7,151.8 181.4,152.1 181.1,154 180.9,155.5 180.6,156 180,156.1 178.7,155.9 178.4,155.9 178.2,155.5 177.9,154.4 177.6,152.8 177.3,152.1 177.1,153.2 176.8,154.7 176.5,155.5 176.3,155.7 175.7,155.7 175.4,155.6 175.2,155.3 174.9,153.9 174.6,151.3 174.4,149.1 174.1,150 173.8,152.7 173.6,154.7 173.3,155.3 172.7,155.4 172.2,155.3 171.9,155.2 171.7,154.8 171.4,153.2 171.1,150.2 170.8,148.2 170.6,149.5 170.3,152.5 170,154.4 169.8,155 168.7,155 168.1,154.8 167.9,154.3 167.6,152.3 167.3,149.2 167.1,147.8 166.8,149.7 166.5,152.7 166.2,154.3 166,154.7 164.1,154.6 163.5,154.4 163.3,153.8 163,151.7 162.7,148.4 162.5,146.7 162.2,148.8 161.9,152 161.6,153.8 161.4,154.2 160,154.2 159.5,154 159.2,153.3 158.9,151.6 158.7,149.5 158.4,149.1 157.9,152.9 157.6,153.7 157.3,153.9 156.8,153.9 156.5,153.7 156.2,153.1 155.7,150.6 155.4,150.8 155.2,152.1 154.9,153.2 154.6,153.6 75.6,146.2 75.6,146.6 255,163.6Z" fill="url(#r2)"/>
<path d="M264.5,165.5 264.5,165.2 253.3,158.4 253,158.1 252.9,157.8 252.8,156.9 252.6,155.3 252.5,153 252.3,151.3 252.2,151.4 252,153.1 251.9,155.1 251.7,156.5 251.6,157 251.3,157.1 250.2,156.4 249.9,155.9 249.7,155.1 249.6,153.5 249.4,151.4 249.3,149.7 249.1,149.8 249,151.4 248.9,153.3 248.7,154.6 248.6,155.2 248.3,155.2 247.3,154.6 247,154.2 246.8,153.6 246.7,152.1 246.4,146.9 246.2,145.8 246.1,147 246,149.6 245.8,151.8 245.7,153 245.5,153.4 244.5,152.9 244.2,152.6 244.1,152.1 243.9,150.9 243.8,148.6 243.6,145.9 243.5,144.3 243.4,145 243.1,149.7 242.9,151.1 242.8,151.6 242.3,151.6 241.6,151.1 241.5,150.8 241.3,150.3 241.2,149.1 241,147.4 240.9,145.9 240.7,145.7 240.6,146.8 240.5,148.4 240.3,149.5 240.2,150 239.9,150 238.3,149 238,148.5 237.9,147.8 237.6,145.5 237.4,145 237.3,145.5 237,147.4 236.8,147.9 236.5,148 234.8,146.9 234.7,146.7 234.5,146.3 234.4,145.3 234.1,142.1 233.9,141.3 233.8,142 233.5,144.9 233.4,145.6 233.2,145.8 231.9,145.1 231.6,144.7 231.5,143.8 231.3,141.8 231,135 230.9,133.6 230.8,135.4 230.6,138.8 230.5,141.8 230.3,143.3 230.2,143.8 229.6,143.7 229.3,143.2 229.2,142.4 229,140.4 228.7,133.9 228.6,132.8 228.4,134.5 228.3,137.8 228.2,140.6 228,142 227.9,142.4 226,141.4 225.7,141.1 225.5,140.6 225.4,139.3 225.3,137 225.1,134.2 225,132.6 224.8,133.3 224.5,138.2 224.4,139.6 224.2,140.2 224,140.2 223.7,139.9 223.5,139.4 223.4,138.3 223.1,134.2 222.9,133.2 222.8,134 222.5,137.7 222.4,138.7 222.2,139 220.2,137.9 219.9,137.5 219.8,137 219.6,135.9 219.3,132.8 219.2,132.4 219,133.4 218.9,134.9 218.7,136.1 218.6,136.6 218.3,136.7 217.6,136.2 217.4,136 217.3,135.5 217.2,134.5 216.9,131.2 216.7,130.7 216.6,131.6 216.4,133.2 216.3,134.4 216.1,135 215.9,135.2 214.7,134.5 214.5,134.3 214.4,134 214.3,133 214.1,130.9 214,127.8 213.8,125.1 213.7,124.7 213.5,126.8 213.4,129.8 213.2,132 213.1,133 213,133.3 211.7,132.6 211.4,132.3 211.2,131.8 211.1,130.6 210.8,126.8 210.6,125.9 210.5,126.8 210.4,128.6 210.2,130.3 210.1,131.1 209.9,131.4 208.3,130.5 208,130.1 207.9,129.4 207.7,127.5 207.6,124.3 207.5,120.8 207.3,119.1 207.2,120.5 207,123.9 206.9,126.9 206.7,128.6 206.6,129.2 206.3,129.3 205.6,128.8 205.3,128.3 205.1,127.6 204.9,125.9 204.7,125.7 204.6,126.3 204.4,127.1 204.3,127.6 204,127.8 202,126.6 201.7,126.2 201.5,125.5 201.4,123.7 201.1,117.5 200.9,116.2 200.8,117.7 200.7,120.8 200.5,123.4 200.4,124.9 200.2,125.3 199.2,124.9 198.9,124.5 198.8,124 198.6,122.7 198.3,118.2 198.2,117.3 198,118.4 197.9,120.5 197.8,122.4 197.6,123.4 197.5,123.7 196.7,123.3 196.6,123.2 196.5,122.8 196.3,121.9 196,119.5 195.9,119.2 195.7,119.9 195.6,121.1 195.4,121.9 195.3,122.3 194.1,121.8 193.7,121.5 193.6,121.2 193.4,120.7 193.3,119.4 193,115.3 192.8,114.6 192.7,115.7 192.5,117.7 192.4,119.3 192.3,120.2 192.1,120.4 191.1,119.9 191,119.7 190.8,119.3 190.7,118.1 190.5,115.9 190.4,113 190.2,110.9 190.1,111.2 189.9,113.6 189.8,116.2 189.7,117.9 189.5,118.6 189.2,118.7 187.3,117.6 187,117.3 186.9,117 186.8,116.3 186.5,114.8 186.3,114.6 186,115.8 185.9,116.3 185.6,116.5 184.2,115.6 184,115.4 183.9,114.9 183.7,113.8 183.6,111.8 183.4,109.6 183.3,108.4 183.1,109.1 182.9,113 182.7,114.1 182.6,114.4 181.3,113.8 181,113.5 180.8,113.2 180.7,112.2 180.5,110.4 180.4,108.2 180.2,106.7 180.1,107 179.8,110.8 179.7,112.1 179.5,112.5 178.5,112.1 178.2,111.9 178.1,111.6 177.9,111.1 177.8,109.7 177.5,105.7 177.4,105.1 177.2,106.3 177.1,108.3 176.9,109.9 176.8,110.6 176.6,110.8 175.6,110.3 175.3,109.9 175.2,109.3 175,107.9 174.7,103.6 174.6,103 174.5,104.3 174.3,106.4 174.2,108.1 174,108.9 173.9,109.1 173.3,108.9 173,108.5 172.9,107.9 172.7,106.9 172.6,105.6 172.4,104.8 172.3,105 172,107 171.9,107.6 171.6,107.8 166.9,104.9 166.9,105.2Z" fill="url(#r32)"/>
<path d="M262,169.3 Q180,167.6 90.5,170" fill="none" stroke="#5a7ce0" stroke-width="0.7" opacity="0.1"/>
<path d="M262,169.1 260.6,169.1 260.4,169 260.2,168.7 259.9,167.9 259.7,166.7 259.5,165.9 259.3,166.2 258.8,168.3 258.6,168.9 258.3,169 257.9,169 257.7,169 257.4,168.6 257.2,167.8 257,166.6 256.7,165.6 256.5,165.7 256.1,168.1 255.8,168.7 255.6,169 255.1,169 254.9,168.9 254.7,168.7 254.5,168 254.2,166.9 254,165.9 253.8,165.9 253.5,166.9 253.3,168 253.1,168.7 252.9,168.9 252.4,168.9 252.2,168.9 251.9,168.6 251.7,167.8 251.2,164.8 251,164.5 250.8,165.8 250.6,167.4 250.3,168.4 250.1,168.8 249.6,168.9 249.4,168.9 249.2,168.6 249,168 248.5,165.3 248.3,165 248,165.9 247.8,167.3 247.6,168.3 247.3,168.7 246.9,168.9 246.7,168.8 246.4,168.6 246.2,167.9 246,166.5 245.7,164.9 245.5,164.3 245.3,165.2 245,166.9 244.8,168.1 244.6,168.6 244.1,168.8 238.6,168.7 238.1,168.6 237.9,168 237.7,166.7 237.4,164.7 237.2,163.3 237,163.8 236.5,167.4 236.3,168.3 236,168.6 235.6,168.7 235.3,168.6 235.1,168.1 234.9,167 234.7,165.2 234.4,163.7 234.2,163.9 233.7,167.2 233.5,168.2 233.3,168.6 232.8,168.7 232.6,168.5 232.3,168 232.1,166.7 231.9,164.3 231.6,162.2 231.4,162.1 231.2,164.1 230.9,166.5 230.7,167.9 230.5,168.5 230,168.6 229.8,168.5 229.6,168.1 229.3,166.9 228.9,162.3 228.6,161.9 228.4,163.7 228.2,166.2 227.9,167.8 227.7,168.4 227.5,168.6 227,168.5 226.8,168.2 226.5,167.3 226.3,165.5 226.1,163.5 225.8,162.9 225.6,164.2 225.4,166.3 225.1,167.8 224.9,168.4 224.7,168.6 224.2,168.5 224,168.2 223.7,167.2 223.5,165 223.3,162.5 223,161.4 222.8,162.8 222.6,165.4 222.3,167.4 222.1,168.3 221.9,168.5 221.4,168.5 221.2,168.3 220.9,167.5 220.7,165.8 220.5,163.6 220.2,162.4 220,163.4 219.8,165.6 219.5,167.4 219.3,168.2 219.1,168.5 218.6,168.5 218.4,168.3 218.1,167.4 217.9,165.5 217.7,162.8 217.4,161.1 217.2,161.9 217,164.5 216.7,166.9 216.5,168.1 216.3,168.4 215.8,168.5 215.6,168.3 215.3,167.4 215.1,165.3 214.9,162.1 214.6,159.8 214.4,160.5 213.9,166.3 213.7,167.8 213.5,168.4 213.2,168.5 213,168.5 212.8,168.3 212.5,167.5 212.3,165.5 212.1,162.2 211.8,159.6 211.6,159.8 211.4,162.7 211.1,165.8 210.9,167.7 210.6,168.3 210.4,168.5 210.2,168.5 209.9,168.3 209.7,167.7 209.5,165.8 209.2,162.7 209,159.8 208.8,159.5 208.5,162.2 208.3,165.5 208.1,167.5 207.8,168.3 207.6,168.4 202,168.4 201.5,168.3 201.2,167.9 201,166.4 200.8,163.3 200.5,159.5 200.3,157.8 200.1,159.8 199.8,163.7 199.6,166.6 199.4,168 199.1,168.4 198.6,168.4 198.4,168.1 198.2,167.1 197.9,164.8 197.7,161.8 197.5,160.1 197.2,161.3 197,164.3 196.8,166.8 196.5,168 196.3,168.4 195.8,168.4 195.6,168.1 195.3,167.2 195.1,164.9 194.9,161.6 194.6,159.5 194.4,160.5 194.2,163.6 193.9,166.4 193.7,167.9 193.4,168.3 193.2,168.4 193,168.4 192.7,168.2 192.5,167.2 192.3,164.9 192,161.3 191.8,158.7 191.6,159.3 191.1,165.9 190.8,167.7 190.6,168.3 190.4,168.4 190.1,168.4 189.9,168.2 189.7,167.4 189.4,165.4 189.2,161.9 188.9,159 188.7,159.2 188.5,162.2 188.2,165.6 188,167.5 187.8,168.2 187.5,168.4 187.3,168.4 187,168.3 186.8,167.6 186.6,165.6 186.3,162.1 186.1,158.7 185.9,158.4 185.6,161.3 185.4,165 185.1,167.3 184.9,168.2 184.7,168.4 184.4,168.4 184.2,168.3 184,167.6 183.7,165.7 183.5,162 183.2,158.2 183,157.2 182.8,160.1 182.5,164.2 182.3,167 182.1,168.1 181.8,168.4 181.6,168.4 181.3,168.3 181.1,167.7 180.9,165.7 180.6,161.8 180.4,157.3 180.2,155.7 179.9,158.5 179.7,163.1 179.4,166.5 179.2,168 179,168.4 178.7,168.5 178.5,168.3 178.2,167.8 178,166 177.8,162.2 177.5,157.4 177.3,155.2 177.1,157.6 176.8,162.4 176.6,166.1 176.3,167.9 176.1,168.4 175.9,168.5 175.6,168.4 175.4,167.9 175.1,166.3 174.9,162.5 174.7,157.5 174.4,154.7 174.2,156.6 173.9,161.5 173.7,165.7 173.5,167.7 173.2,168.3 173,168.5 172.8,168.4 172.5,168.1 172.3,167 172,164.3 171.8,160.4 171.6,157.8 171.3,158.8 171.1,162.5 170.8,166 170.6,167.8 170.4,168.4 169.9,168.5 167.2,168.5 167,168.5 166.8,168.2 166.5,167.2 166.3,164.2 166,159.4 165.8,155.1 165.6,155.2 165.3,159.4 165.1,164.3 164.8,167.2 164.6,168.3 164.4,168.5 164.1,168.5 163.9,168.3 163.6,167.5 163.4,165.2 163.2,161 162.9,157 162.7,156.4 162.4,159.9 162.2,164.3 162,167.1 161.7,168.2 161.5,168.5 161.2,168.6 161,168.4 160.8,167.8 160.5,166 160.3,162.4 160,158.7 159.8,157.7 159.6,160.4 159.3,164.4 159.1,167.1 158.8,168.2 158.6,168.5 158.3,168.6 158.1,168.5 157.9,167.9 157.6,166 157.4,162.2 157.1,157.8 156.9,156.2 156.7,158.8 156.4,163.3 156.2,166.7 155.9,168.1 155.7,168.5 155.5,168.6 155.2,168.5 155,168.1 154.7,166.8 154.5,163.8 154.2,160 154,158.2 153.8,160 153.5,163.7 153.3,166.8 153,168.2 152.8,168.6 152.6,168.6 152.3,168.6 152.1,168.1 151.8,166.5 151.6,162.8 151.3,157.6 151.1,154.6 150.9,156.4 150.6,161.4 150.4,165.7 150.1,167.9 149.9,168.5 149.7,168.7 149.4,168.6 149.2,168.3 148.9,166.9 148.7,163.7 148.4,158.8 148.2,155.5 148,156.6 147.7,161.2 147.5,165.5 147.2,167.8 147,168.5 146.8,168.7 146.5,168.7 146.3,168.5 146,167.5 145.8,165.1 145.5,161.3 145.3,158.3 145.1,158.7 144.8,162.1 144.6,165.8 144.3,167.9 144.1,168.6 143.8,168.7 143.6,168.7 143.4,168.5 143.1,167.5 142.9,164.8 142.6,160.3 142.4,156.2 142.1,156.1 141.9,160 141.7,164.7 141.4,167.5 141.2,168.5 140.9,168.8 140.7,168.8 140.4,168.6 140.2,168 140,166.1 139.5,159.3 139.2,158.7 139,161.5 138.7,165.2 138.5,167.6 138.3,168.6 138,168.8 137.8,168.8 137.5,168.7 137.3,168.2 137,166.5 136.8,163.2 136.5,159.6 136.3,158.6 136.1,161.1 135.8,164.8 135.6,167.4 135.3,168.5 135.1,168.8 134.8,168.9 134.6,168.8 134.4,168.3 134.1,166.6 133.9,163.2 133.6,159.1 133.4,157.4 133.1,159.7 132.9,163.9 132.6,167.1 132.4,168.5 132.2,168.9 131.9,168.9 131.7,168.8 131.4,168.3 131.2,166.5 130.9,162.6 130.7,157.5 130.5,154.9 130.2,157.2 130,162.2 129.7,166.3 129.5,168.3 129.2,168.9 129,169 128.7,168.9 128.5,168.5 128.3,166.9 128,163.2 127.8,158.1 127.5,154.9 127.3,156.6 127,161.6 126.8,166 126.5,168.2 126.3,168.9 126,169 125.8,169 125.6,168.7 125.3,167.7 125.1,165.2 124.8,161.4 124.6,158.7 124.3,159.5 123.8,166.5 123.6,168.3 123.4,168.9 123.1,169.1 122.9,169.1 122.6,168.9 122.4,168 122.1,165.7 121.9,162.1 121.6,159.1 121.4,159.4 121.1,162.7 120.9,166.2 120.7,168.2 120.4,169 120.2,169.1 119.9,169.1 119.7,168.9 119.4,168.1 119.2,165.8 118.9,161.7 118.7,158 118.4,157.8 118.2,161.3 118,165.4 117.7,168 117.5,168.9 117.2,169.2 117,169.2 116.7,169.1 116.5,168.4 116.2,166.5 115.7,159.3 115.5,158.6 115.3,161.5 115,165.4 114.8,167.9 114.5,169 114.3,169.2 114,169.3 113.8,169.1 113.5,168.4 113.3,166.3 113,162 112.8,157.3 112.5,155.8 112.3,158.9 112,163.9 111.8,167.4 111.6,168.9 111.3,169.3 105.4,169.5 104.9,169.4 104.6,169 104.4,167.5 104.1,163.9 103.9,158.8 103.7,155.6 103.4,157.1 103.2,162 102.9,166.4 102.7,168.6 102.4,169.4 102.2,169.5 101.9,169.5 101.7,169.2 101.4,168.1 101.2,165.4 100.9,161.2 100.7,158.1 100.4,158.9 99.9,166.6 99.7,168.7 99.4,169.4 99.2,169.6 98.9,169.6 98.7,169.3 98.5,168.4 98.2,165.7 98,161.4 97.7,157.9 97.5,158.1 97.2,161.9 97,166.1 96.7,168.6 96.5,169.4 96.2,169.7 96,169.7 95.7,169.5 95.5,168.6 95.2,166.2 95,161.9 94.7,157.9 94.5,157.6 94.2,161.2 94,165.6 93.7,168.4 93.5,169.5 93.2,169.7 90.5,169.8 90.5,170 94.2,169.9 105.1,169.6 116,169.4 126.8,169.2 137.5,169 148.2,168.9 158.8,168.8 169.4,168.7 179.9,168.6 190.4,168.6 200.8,168.6 211.1,168.6 221.4,168.7 231.6,168.8 241.8,168.9 251.9,169.1 262,169.3Z" fill="url(#r0)"/>
<path d="M250,162.3 251.3,158.3 252.5,156.9 253.8,155.9 255,155.2 256.3,154.7 257.5,154.3 258.8,154 260,153.8 261.3,153.7 262.5,153.6 263.8,153.6 265,153.6 266.3,153.7 267.5,153.9 268.8,154.1 270,154.3 271.3,154.6 272.6,154.9 273.8,155.3 275.1,155.7 276.3,156.2 277.6,156.7 278.8,157.2 280.1,157.8 281.3,158.5 282.6,159.3 283.8,160.1 285.1,161 286.3,162 287.6,163.1 288.8,164.4 290.1,165.9 291.3,168 292.6,172.6 292.6,175.2 250,164.9Z" fill="url(#r31)" opacity="1"/>
<path d="M250,162.3 251.3,158.3 252.5,156.9 253.8,155.9 255,155.2 256.3,154.7 257.5,154.3 258.8,154 260,153.8 261.3,153.7 262.5,153.6 263.8,153.6 265,153.6 266.3,153.7 267.5,153.9 268.8,154.1 270,154.3 271.3,154.6 272.6,154.9 273.8,155.3 275.1,155.7 276.3,156.2 277.6,156.7 278.8,157.2 280.1,157.8 281.3,158.5 282.6,159.3 283.8,160.1 285.1,161 286.3,162 287.6,163.1 288.8,164.4 290.1,165.9 291.3,168 292.6,172.6 292.6,175.2 250,164.9Z" fill="url(#mshade)"/>
<path d="M290,171.3 Q396.7,170.8 503.5,181.5" fill="none" stroke="#5a7ce0" stroke-width="0.7" opacity="0.1"/>
<path d="M298.5,175.6 299.1,173.4 299.6,172.7 300.2,172.3 300.8,171.9 301.4,171.7 301.9,171.6 303.1,171.5 304.2,171.5 305.4,171.8 306.5,172.1 307.6,172.6 308.8,173.2 309.9,174 311.1,174.9 311.6,175.5 312.2,176.1 312.8,176.8 313.4,177.7 313.9,178.8 314.5,181.4 314.5,182.3 298.5,176.5Z" fill="url(#r11)" opacity="0.9"/>
<path d="M290,171.1 291.8,171.1 292.3,170.9 292.5,170.4 292.7,169.1 292.9,166.7 293.1,163.8 293.3,161.5 293.5,161.4 293.7,163.5 293.9,166.5 294.1,168.9 294.3,170.3 294.5,170.9 294.9,171.1 298.6,171.1 299,171 299.2,170.8 299.4,170 299.6,168.2 299.8,165.3 300,162.1 300.2,160.1 300.4,160.8 300.6,163.5 300.9,166.8 301.1,169.2 301.3,170.5 301.5,170.9 301.9,171.1 305.2,171.1 305.6,170.9 305.8,170.4 306,169.1 306.2,166.6 306.4,163.3 306.6,160.6 306.8,160.1 307,162.1 307.2,165.4 307.4,168.3 307.6,170.1 307.8,170.8 308,171.1 310.5,171.1 310.9,171.1 311.1,170.8 311.3,169.9 311.5,168.1 311.9,163 312.1,161.9 312.3,163.1 312.7,168.2 312.9,170 313.1,170.8 313.3,171.1 317.9,171.2 318.3,171.1 318.5,170.9 318.7,170.3 318.9,168.7 319.1,166.1 319.3,163.1 319.5,161.1 319.7,161.5 319.9,163.9 320.1,167 320.3,169.3 320.5,170.6 320.7,171 321.1,171.2 329.7,171.3 330.1,171.3 330.3,171.2 330.6,170.7 330.8,169.6 331,167.7 331.2,165.3 331.4,163.7 331.6,163.7 331.8,165.5 332,167.8 332.2,169.7 332.4,170.8 332.6,171.2 333,171.4 335.1,171.4 335.5,171.3 335.7,170.9 335.9,170 336.1,168.1 336.3,165.5 336.5,163.3 336.7,162.8 336.9,164.3 337.1,166.9 337.3,169.2 337.5,170.6 337.7,171.2 337.9,171.4 340.8,171.5 341.2,171.4 341.4,170.9 341.6,169.7 341.8,167.4 342,164.4 342.2,161.8 342.4,161.2 342.6,163 342.8,166.1 343,168.9 343.3,170.5 343.5,171.3 343.7,171.5 345.5,171.6 345.9,171.6 346.1,171.3 346.3,170.5 346.5,168.9 346.9,163.9 347.1,162.9 347.4,163.9 347.8,168.9 348,170.5 348.2,171.3 348.4,171.6 351.2,171.8 351.7,171.6 351.9,171.2 352.1,170.1 352.3,167.6 352.7,160.6 352.9,159.3 353.1,160.9 353.5,167.9 353.7,170.3 353.9,171.3 354.1,171.7 357,171.9 357.4,171.9 357.6,171.8 357.8,171.4 358,170.5 358.2,168.6 358.4,166 358.6,163.8 358.8,163.3 359,164.9 359.2,167.4 359.4,169.7 359.6,171.1 359.8,171.7 360.1,172 362.3,172.1 362.7,172 362.9,171.7 363.1,170.8 363.3,169.1 363.5,166.6 363.7,164.2 363.9,163.4 364.1,164.7 364.6,169.6 364.8,171.1 365,171.9 365.2,172.1 367,172.2 367.4,172.2 367.6,171.9 367.8,171.1 368,169.5 368.5,164.6 368.7,163.5 368.9,164.5 369.3,169.5 369.5,171.1 369.7,171.9 369.9,172.2 371.1,172.4 371.5,172.2 371.7,171.6 371.9,170.1 372.1,167.2 372.3,163.4 372.5,160.2 372.8,159.7 373,162.1 373.2,165.9 373.4,169.3 373.6,171.3 373.8,172.1 374,172.4 380.5,172.7 380.9,172.7 381.2,172.6 381.4,172.3 381.6,171.3 381.8,169.4 382,166.6 382.2,164.1 382.4,163.3 382.6,164.7 383,170.1 383.2,171.7 383.4,172.5 383.6,172.8 386.3,173 386.7,172.9 386.9,172.5 387.1,171.4 387.3,169 387.7,161.6 387.9,159.7 388.1,161.1 388.3,164.7 388.5,168.5 388.7,171.1 388.9,172.4 389.1,172.9 389.6,173.1 390,173.1 390.2,173 390.4,172.6 390.6,171.4 390.8,168.8 391.2,161 391.4,159.3 391.6,160.8 392,168.7 392.2,171.3 392.4,172.6 392.6,173.1 393.2,173.3 394.5,173.3 394.9,173.2 395.1,172.6 395.3,171.2 395.5,168.5 395.7,164.8 395.9,161.8 396.1,161.1 396.3,163.3 396.5,167 396.7,170.2 396.9,172.2 397.1,173.1 397.3,173.4 398.2,173.5 398.6,173.4 398.8,173 399,171.7 399.2,169.1 399.6,161.3 399.8,159.5 400,161.1 400.4,169 400.6,171.7 400.8,173 401,173.5 401.6,173.7 403.1,173.7 403.3,173.7 403.5,173.4 403.7,172.4 403.9,170.2 404.1,166.4 404.3,162.2 404.5,159.6 404.7,160.3 404.9,163.9 405.1,168.1 405.3,171.3 405.5,173 405.7,173.7 405.9,173.9 407.4,174 407.6,173.9 407.8,173.7 408,172.9 408.2,171.1 408.4,168.3 408.6,165.3 408.8,163.6 409,164.3 409.2,167 409.4,170.1 409.6,172.4 409.8,173.5 410,174 410.5,174.1 410.9,174 411.1,173.6 411.3,172.5 411.5,170.4 411.7,167.6 411.9,165.1 412.1,164.5 412.3,166.2 412.5,169.1 412.7,171.7 412.9,173.3 413.1,174 413.3,174.2 414.1,174.3 414.3,174.3 414.6,174 414.8,173.1 415,171.3 415.4,166.2 415.6,165.2 415.8,166.5 416.2,171.6 416.4,173.3 416.6,174.1 416.8,174.4 424.8,175 425.4,174.9 425.6,174.6 425.8,173.7 426,171.7 426.2,168.4 426.4,164.8 426.6,162.8 426.8,163.6 427.1,166.8 427.3,170.5 427.5,173.1 427.7,174.5 427.9,175 428.3,175.2 428.5,175.1 428.7,174.8 428.9,173.8 429.1,171.6 429.3,168.1 429.5,164.4 429.7,162.5 429.9,163.6 430.1,167 430.3,170.8 430.5,173.4 430.7,174.7 430.9,175.2 431.4,175.4 432.2,175.4 432.4,175.3 432.6,174.9 432.8,173.9 433,171.7 433.2,168.7 433.4,165.9 433.6,164.9 433.8,166.5 434.2,172.5 434.4,174.4 434.6,175.2 434.8,175.5 435.9,175.7 436.3,175.6 436.5,175.3 436.7,174.5 436.9,172.5 437.1,169.4 437.3,166 437.5,164.2 437.7,165.1 437.9,168.2 438.1,171.6 438.3,174 438.5,175.3 438.7,175.7 438.9,175.7 439.1,175 439.3,173.5 439.6,170.8 439.8,167.3 440,164.7 440.2,164.6 440.4,167.1 440.6,170.6 440.8,173.5 441,175.1 441.2,175.8 441.4,176 448.2,176.5 448.6,176.5 448.8,176.2 449,175.5 449.2,173.8 449.6,168.7 449.8,167.5 450,168.5 450.4,173.7 450.6,175.5 450.8,176.3 451,176.7 451.6,176.8 451.8,176.7 452.1,176.5 452.3,175.9 452.5,174.4 452.7,171.9 452.9,169.4 453.1,168 453.3,168.7 453.5,171.1 453.7,173.7 453.9,175.6 454.1,176.5 454.3,176.9 454.5,176.9 454.7,176.4 454.9,175.2 455.1,172.6 455.5,164.9 455.7,163.3 455.9,165 456.4,172.8 456.6,175.4 456.8,176.1 457,174.2 457.2,170.9 457.4,166.9 457.6,164.1 457.8,164.3 458,167.4 458.2,171.4 458.4,174.6 458.6,176.4 458.8,177.1 459,177.3 459.6,177.4 459.8,177.3 460,177 460.3,176 460.5,173.8 460.9,167 461.1,165.3 461.3,166.6 461.5,169.9 461.7,173.4 461.9,175.8 462.1,177 462.3,177.5 462.5,177.3 462.7,176.5 462.9,174.8 463.3,169.7 463.5,168.6 463.7,169.7 464.1,174.8 464.4,176.6 464.6,177.4 464.8,177.7 465.2,177.9 465.4,177.8 465.6,177.6 465.8,176.8 466,174.8 466.2,171.3 466.4,167 466.6,164 466.8,164 467,167.2 467.2,171.5 467.4,175 467.6,177 467.8,177.8 468,178 468.2,178.1 468.4,178 468.7,177.5 468.9,176.2 469.1,173.6 469.3,169.8 469.5,166.3 469.7,165 469.9,166.8 470.3,174.3 470.5,176.7 470.7,177.8 470.9,178.2 477.7,178.9 478.1,178.9 478.3,178.8 478.5,178.2 478.7,176.6 478.9,173.5 479.1,169.3 479.3,165.7 479.5,164.8 479.7,167.3 479.9,171.5 480.1,175.3 480.3,177.7 480.5,178.7 480.7,178 481,176.2 481.2,173.2 481.4,170.1 481.6,168.4 481.8,169.3 482,172.1 482.2,175.3 482.4,177.6 482.6,178.8 482.8,179.2 483.4,179.4 488.9,179.9 489.4,179.9 489.6,179.6 489.8,178.8 490,176.8 490.2,173.3 490.4,169.4 490.6,166.9 490.8,167.4 491,170.7 491.2,174.7 491.4,177.7 491.6,179.3 491.8,180 492,179.6 492.2,178.3 492.4,175.6 492.6,171.8 492.8,168.3 493,167.1 493.3,169 493.5,172.8 493.7,176.5 493.9,178.8 494.1,179.9 494.3,180.3 495.3,180.5 495.7,180.4 495.9,179.8 496.1,178.4 496.3,175.5 496.5,171.4 496.7,167.9 496.9,166.9 497.1,169.2 497.4,173.2 497.6,177 497.8,179.3 498,179 498.2,176.4 498.6,168.3 498.8,166.5 499,168.1 499.2,172 499.4,176.1 499.6,178.9 499.8,180.3 500,180.8 500.4,181 500.6,180.9 500.8,180.4 501,179.2 501.2,176.9 501.5,173.7 501.7,171 501.9,170.5 502.1,172.4 502.3,175.6 502.5,178.4 502.7,180.2 502.9,181 503.1,181.2 503.5,181.3 503.5,181.5 503.1,181.5 489.8,180.2 476.4,179 463.1,177.9 449.8,176.8 436.5,175.9 423.2,175 409.8,174.3 396.5,173.6 383.2,173 369.9,172.5 356.6,172.1 343.3,171.7 329.9,171.5 316.6,171.3 303.3,171.3 290,171.3Z" fill="url(#r1)"/>
<path d="M355,193.6 355,193.1 355.3,193.1 355.5,192.7 355.8,192.1 356.2,190.5 356.7,188.6 357.2,186.2 357.7,183.6 358.2,180.7 358.4,179.1 358.6,179.2 359.1,182.5 359.6,185.5 360.1,188.3 360.6,190.7 361,192.8 361.3,193.6 361.5,194.3 361.8,194.8 362,195 362,195.5Z" fill="url(#r21)"/>
<path d="M345.1,191.1 345.1,190.4 345.7,190.5 346,189.3 346.3,188.5 346.6,187.8 347.2,186.7 347.8,186 348.4,185.5 349,185.2 349.6,185.1 350.2,185.2 350.8,185.5 351.4,186 352.1,186.7 352.7,187.7 353.3,188.9 353.6,189.6 353.9,190.5 354.2,191.5 354.5,192.8 354.8,193 362.3,195.1 362.6,195 362.9,193.8 363.2,193 363.5,192.4 364.1,191.3 364.7,190.5 365.3,190 365.9,189.7 366.5,189.7 367.1,189.8 367.7,190.1 368.3,190.6 368.9,191.4 369.5,192.3 370.1,193.6 370.4,194.3 370.7,195.1 371,196.1 371.3,197.5 371.9,197.7 371.9,198.4Z" fill="url(#r20)"/>
<path d="M394.6,204.4 394.6,203.9 394.8,203.9 395.1,203.5 395.3,202.9 395.8,201.4 396.3,199.4 396.7,197 397.2,194.4 397.7,191.5 397.9,189.9 398.2,190 398.7,193.3 399.1,196.3 399.6,199.1 400.1,201.5 400.6,203.6 400.8,204.4 401.1,205.1 401.3,205.6 401.5,205.8 401.5,206.3Z" fill="url(#r23)"/>
<path d="M387.6,202.7 387.6,202 388.2,202.1 388.5,200.6 388.8,199.6 389.1,198.8 389.4,198.1 389.7,197.6 390,197.2 390.6,196.6 391.2,196.4 391.9,196.6 392.5,197.1 393.1,197.9 393.4,198.5 393.7,199.2 394,200 394.3,200.9 394.6,202 394.9,203.5 395.2,204.1 400.9,205.6 401.2,205.2 401.5,203.9 401.9,203 402.2,202.2 402.5,201.6 402.8,201 403.4,200.3 404,200 404.6,200 405.2,200.4 405.8,201.1 406.1,201.6 406.4,202.2 406.7,202.9 407,203.7 407.3,204.6 407.6,205.8 407.9,207.5 408.5,207.7 408.5,208.4Z" fill="url(#r22)"/>
<path d="M426.4,213.1 426.4,212.6 426.6,212.5 426.9,212.2 427.1,211.6 427.6,210 428.1,208.1 428.6,205.7 429,203.1 429.5,200.1 429.8,198.6 430,198.7 430.5,202 431,205 431.4,207.8 431.9,210.2 432.4,212.3 432.6,213.1 432.9,213.8 433.1,214.3 433.4,214.5 433.4,215Z" fill="url(#r25)"/>
<path d="M420.5,211.7 420.5,211 421.1,211.1 421.4,209.4 421.7,208.4 422,207.5 422.3,206.8 422.6,206.3 422.9,205.9 423.2,205.6 423.5,205.4 423.8,205.3 424.1,205.4 424.4,205.5 424.7,205.8 425,206.1 425.3,206.6 425.6,207.2 425.9,207.9 426.3,208.8 426.6,209.9 426.9,211.2 427.2,212.8 432.6,214.3 432.9,212.8 433.2,211.7 433.5,210.8 433.8,210.1 434.1,209.5 434.4,209.1 434.7,208.8 435,208.6 435.3,208.5 435.6,208.5 435.9,208.6 436.2,208.9 436.5,209.2 436.8,209.7 437.1,210.2 437.4,210.9 437.7,211.8 438,212.8 438.3,214.1 438.6,215.9 439.2,216.1 439.2,216.8Z" fill="url(#r24)"/>
<path d="M300,175.5 Q413.5,189.6 527,219" fill="none" stroke="#5a7ce0" stroke-width="0.7" opacity="0.3"/>
<path d="M300,175.2 311,176.6 311.5,176.6 311.7,176.5 311.9,176.1 312.1,175.1 312.6,171.8 312.8,171.4 313,172.5 313.3,174.3 313.5,175.8 313.7,176.6 313.9,176.9 314.4,177 314.6,176.8 314.8,176.2 315.1,174.8 315.3,172.5 315.5,170.4 315.7,170 316,171.7 316.2,174.1 316.4,176 316.6,176.9 316.9,177.3 317.3,177.4 317.5,177.4 317.8,177.2 318,176.5 318.2,175 318.4,173 318.7,171.6 318.9,171.8 319.1,173.5 319.3,175.5 319.6,176.9 319.8,177.5 320,177.7 321.4,178 321.8,177.8 322,177.4 322.3,176.3 322.5,174.8 322.7,173.6 322.9,173.6 323.2,174.9 323.4,176.5 323.6,177.6 323.8,178.1 324.3,178.4 324.5,178.3 324.7,178.1 325,177.2 325.2,175.5 325.4,173.3 325.6,171.8 325.9,172.2 326.1,174.2 326.3,176.4 326.5,177.9 326.8,178.5 327,178.7 327.2,178.7 327.4,178.5 327.7,177.8 327.9,176.4 328.1,174.4 328.3,173 328.6,173.2 328.8,174.9 329,176.9 329.2,178.3 329.5,178.9 329.7,179.1 330.8,179.3 331,179.3 331.3,179.1 331.5,178.4 331.7,177 331.9,174.9 332.2,173.2 332.4,173.2 332.6,174.9 332.8,177.1 333.1,178.6 333.3,179.4 333.5,179.6 334.2,179.8 334.4,179.7 334.6,179.3 334.9,178.4 335.3,175 335.5,174.4 335.8,175.4 336,177.3 336.2,178.9 336.4,179.7 336.7,180 336.9,180.2 337.1,180.1 337.3,179.8 337.6,179 337.8,177.5 338,175.8 338.2,174.9 338.5,175.6 338.9,179 339.1,180 339.4,180.4 340,180.6 340.5,180.6 340.7,180.4 340.9,179.4 341.2,177.4 341.4,174.5 341.6,172.2 341.8,172.2 342.1,174.5 342.3,177.5 342.5,179.6 342.7,180.6 343,181 343.6,181.1 343.9,181.1 344.1,180.6 344.3,179.4 344.5,177.1 344.8,174.3 345,172.8 345.2,173.7 345.7,179 345.9,180.7 346.1,181.3 346.3,181.5 346.8,181.6 347,181.3 347.2,180.5 347.5,178.6 347.7,175.8 347.9,173.5 348.1,173.4 348.4,175.6 348.6,178.5 348.8,180.6 349,181.6 349.3,181.9 349.7,182 349.9,181.9 350.2,181.3 350.4,179.8 350.6,177.6 350.8,175.8 351.1,175.6 351.3,177.2 351.5,179.5 351.7,181.3 352,182.1 352.2,182.4 353.1,182.6 353.5,182.6 353.8,182.2 354,181.2 354.2,178.9 354.4,176 354.7,174 354.9,174.4 355.1,177 355.3,179.9 355.6,181.9 355.8,182.7 356,183 356.5,183.1 356.7,182.9 356.9,182.3 357.1,181 357.4,179 357.6,177.4 357.8,177.3 358,178.9 358.3,181 358.5,182.5 358.7,183.2 358.9,183.5 359.4,183.6 359.6,183.5 359.8,183.2 360.1,182.2 360.3,180.4 360.5,178.1 360.7,176.9 361,177.6 361.4,181.9 361.6,183.3 361.9,183.8 362.3,184.1 362.8,184.1 363,183.8 363.2,182.7 363.4,180.5 363.7,177.2 363.9,174.6 364.1,174.6 364.3,177.3 364.6,180.6 364.8,183 365,184.1 365.2,184.5 365.7,184.6 365.9,184.6 366.1,184.2 366.4,183 366.6,180.5 366.8,177 367,174.4 367.3,174.7 367.5,177.6 367.7,181.1 367.9,183.5 368.2,184.6 368.4,185 369.5,185.2 369.7,185.2 370,185.1 370.2,184.5 370.4,183.2 370.6,181.1 370.9,179.3 371.1,179 371.3,180.6 371.5,182.8 371.8,184.5 372,185.3 372.2,185.6 372.4,185.7 372.7,185.5 372.9,184.8 373.1,183.1 373.6,177.7 373.8,177 374,178.9 374.2,181.9 374.5,184.3 374.7,185.6 374.9,186 375.1,186.2 375.4,186.2 375.6,185.9 375.8,185 376,183.1 376.3,180.3 376.5,178 376.7,178 376.9,180.2 377.2,183.1 377.4,185.2 377.6,186.2 377.8,186.6 379.2,186.9 379.4,186.9 379.6,186.7 379.9,186 380.1,184.5 380.3,182.2 380.5,180.3 380.8,180.1 381,181.9 381.2,184.3 381.4,186.1 381.7,187 381.9,187.3 382.3,187.4 382.6,187.2 382.8,186.5 383,184.8 383.2,182.5 383.5,180.6 383.7,180.5 383.9,182.4 384.1,184.9 384.4,186.6 384.6,187.5 384.8,187.8 385.3,187.9 385.5,187.9 385.7,187.7 385.9,186.7 386.2,184.5 386.4,180.8 386.6,177.4 386.8,176.6 387.1,179.1 387.3,183 387.5,186.1 387.7,187.7 388,188.3 388.2,188.4 388.4,188.4 388.6,188.2 388.9,187.5 389.1,185.8 389.3,183.6 389.5,182 389.8,182.2 390,184.1 390.2,186.4 390.4,187.9 390.7,188.6 390.9,188.9 391.3,189 391.6,188.9 391.8,188.4 392,187.1 392.2,184.5 392.5,181.2 392.7,179.4 392.9,180.3 393.4,186.5 393.6,188.4 393.8,189.2 394,189.4 394.5,189.6 394.7,189.5 394.9,189.2 395.2,188.2 395.4,186.2 395.6,183.8 395.8,182.5 396.1,183.2 396.5,187.8 396.7,189.2 397,189.8 397.4,190.1 398.1,190.2 398.3,190.2 398.5,189.8 398.8,188.6 399,185.9 399.2,181.9 399.4,178.8 399.7,178.8 399.9,181.9 400.1,185.9 400.3,188.8 400.6,190.1 400.8,190.6 401.2,190.8 401.5,190.8 401.7,190.5 401.9,189.5 402.1,187.4 402.4,184.4 402.6,182.2 402.8,182.3 403,184.8 403.3,187.8 403.5,189.9 403.7,190.9 403.9,191.2 404.6,191.4 404.8,191.4 405.1,191.3 405.3,190.7 405.5,189.2 405.7,186.9 406,184.8 406.2,184.4 406.4,186.1 406.6,188.6 406.9,190.5 407.1,191.5 407.3,191.8 407.8,192 408,192 408.2,191.9 408.4,191.2 408.7,189.7 408.9,187.3 409.1,185 409.3,184.6 409.6,186.3 409.8,188.9 410,191 410.2,192 410.5,192.4 410.9,192.6 411.1,192.6 411.4,192.5 411.6,191.9 411.8,190.1 412,186.8 412.3,182.8 412.5,180.7 412.7,182.1 413.2,189.7 413.4,191.9 413.6,192.8 413.8,193.1 414.1,193 414.3,192.5 414.5,190.9 414.7,188.1 415,185 415.2,183.6 415.4,185 415.6,188.1 415.9,191.1 416.1,192.8 416.3,193.4 416.5,193.7 417.4,193.9 417.7,193.9 417.9,193.7 418.1,193.1 418.3,191.6 418.6,189.2 418.8,187.1 419,186.8 419.2,188.5 419.5,191 419.7,193 419.9,193.9 420.1,194.3 420.4,194.4 420.6,194.4 420.8,194 421,192.8 421.3,190.1 421.5,186.2 421.7,183.1 421.9,183.1 422.2,186.3 422.4,190.3 422.6,193.1 422.8,194.4 423.1,194.9 424.2,195.2 424.6,195.1 424.9,194.7 425.1,193.4 425.5,189.1 425.8,188.3 426,189.6 426.2,191.9 426.4,194 426.7,195.2 426.9,195.6 427.3,195.8 427.6,195.6 427.8,194.9 428,193 428.2,189.6 428.5,186 428.7,184.6 428.9,186.5 429.1,190.3 429.4,193.6 429.6,195.4 429.8,196.1 430,196.3 430.3,196.3 430.5,195.8 430.7,194.6 430.9,192.1 431.2,189 431.4,187.2 431.6,188 432.1,193.9 432.3,195.8 432.5,196.6 432.7,196.9 433.2,196.9 433.4,196.8 433.6,196.1 433.9,194.4 434.1,191.9 434.3,189.7 434.5,189.3 434.8,191.2 435,193.9 435.2,196 435.4,197 435.7,197.4 436.8,197.7 437,197.7 437.2,197.5 437.5,196.7 437.7,194.9 437.9,192 438.1,189.5 438.4,189.2 438.6,191.3 438.8,194.3 439,196.6 439.3,197.8 439.5,198.2 440.2,198.4 440.4,198.4 440.6,198.2 440.8,197.5 441.1,195.9 441.3,193.8 441.5,192.4 441.7,192.7 442,194.6 442.2,196.7 442.4,198.1 442.6,198.7 442.9,198.9 443.1,199 443.3,198.8 443.5,198.1 443.8,196.2 444.2,190.2 444.4,189.4 444.7,191.4 444.9,194.7 445.1,197.4 445.3,198.9 445.6,199.4 446,199.7 446.5,199.7 446.7,199.7 446.9,199.3 447.1,198.1 447.4,196 447.6,193.5 447.8,192.2 448,193.2 448.5,198.1 448.7,199.5 448.9,200.1 449.4,200.4 449.6,200.3 449.8,200.1 450.1,199.2 450.3,197 450.5,193.8 450.7,191.1 451,190.9 451.2,193.3 451.4,196.7 451.6,199.2 451.9,200.4 452.1,200.8 452.8,201.1 453.2,201 453.4,200.5 453.7,199.4 453.9,197.7 454.1,196.2 454.3,196 454.6,197.4 454.8,199.2 455,200.6 455.2,201.3 455.5,201.6 456.1,201.8 456.6,201.7 456.8,201.3 457,200.1 457.5,196.1 457.7,195.4 457.9,196.7 458.2,198.9 458.4,200.8 458.6,201.9 458.8,202.3 459.3,202.5 459.5,202.3 459.7,201.8 460,200.5 460.2,198.6 460.4,197 460.6,196.9 460.9,198.4 461.1,200.5 461.3,202 461.5,202.7 461.8,203 462.4,203.2 462.7,203.1 462.9,202.7 463.1,201.6 463.6,197.8 463.8,197.1 464,198.2 464.2,200.4 464.5,202.2 464.7,203.2 464.9,203.6 465.4,203.8 465.6,203.6 465.8,203 466,201.5 466.3,199.2 466.5,197.1 466.7,196.8 466.9,198.5 467.2,201.1 467.4,203 467.6,203.9 467.8,204.3 468.3,204.5 468.7,204.4 469,204 469.2,202.8 469.4,200.5 469.6,198.1 469.9,197 470.1,198.1 470.3,200.7 470.5,203.1 470.8,204.4 471,204.9 471.4,205.2 471.9,205.1 472.1,204.7 472.3,203.4 472.6,201.2 472.8,198.8 473,197.9 473.2,199.1 473.5,201.7 473.7,203.9 473.9,205.2 474.1,205.7 474.6,205.9 475.5,206.1 475.7,206.1 475.9,206 476.2,205.4 476.4,204.1 476.6,202 476.8,200.3 477.1,200.2 477.3,201.8 477.5,204 477.7,205.6 478,206.4 478.2,206.7 478.6,206.8 478.9,206.8 479.1,206.7 479.3,206.2 479.5,204.9 479.8,203.2 480,201.9 480.2,202.1 480.4,203.6 480.7,205.4 480.9,206.6 481.1,207.2 481.6,207.5 482,207.6 482.2,207.5 482.5,207.1 482.7,206.1 483.1,202.6 483.4,202.1 483.6,203.2 483.8,205.2 484,206.9 484.3,207.8 484.5,208.1 484.7,208.2 484.9,208.1 485.2,207.7 485.4,206.4 485.6,204.2 485.8,201.9 486.1,200.9 486.3,202.2 486.5,204.7 486.7,206.9 487,208.2 487.2,208.7 487.6,208.9 488.1,209 488.3,209 488.5,208.7 488.8,207.8 489.2,204.6 489.4,203.9 489.7,204.8 489.9,206.6 490.1,208.2 490.3,209.2 490.6,209.5 491.5,209.9 491.9,209.9 492.1,209.7 492.4,209 492.6,207.6 492.8,205.9 493,204.9 493.3,205.4 493.7,208.8 493.9,209.9 494.2,210.3 494.6,210.6 495.1,210.6 495.3,210.2 495.5,209.3 495.7,207.9 496,206.6 496.2,206.5 496.4,207.5 496.6,209.1 496.9,210.3 497.1,211 497.3,211.2 498.2,211.4 498.4,211.4 498.7,211 498.9,210.1 499.3,207.3 499.6,207 499.8,208.1 500,209.8 500.2,211.1 500.5,211.7 500.7,212 500.9,211.9 501.1,211.2 501.4,209.7 501.6,207.5 501.8,205.7 502,205.5 502.3,207.3 502.5,209.7 502.7,211.4 502.9,212.3 503.2,212.6 503.8,212.8 504.1,212.8 504.3,212.6 504.5,211.9 504.7,210.2 505,208 505.2,206.5 505.4,206.8 505.6,208.7 505.9,211 506.1,212.5 506.3,213.2 506.5,213.5 507.9,213.8 508.1,213.8 508.3,213.6 508.6,212.8 508.8,211.3 509,209.5 509.2,208.5 509.5,209.1 509.9,212.7 510.1,213.8 510.4,214.3 510.6,214.3 510.8,213.8 511,212.8 511.3,211.6 511.5,210.8 511.7,211.2 512.2,213.7 512.4,214.5 512.6,214.9 513.3,215.2 513.7,215.2 514,215.1 514.2,214.6 514.4,213.4 514.6,211.9 514.9,210.8 515.1,211 515.3,212.4 515.5,214.1 515.8,215.2 516,215.7 516.4,216 517.1,216.1 517.3,216.1 517.6,215.9 517.8,215.2 518,213.7 518.2,211.5 518.5,210 518.7,210.3 518.9,212.2 519.1,214.4 519.4,215.9 519.6,216.5 519.8,216.8 520.3,216.9 520.5,216.8 520.7,216.5 520.9,215.7 521.2,214.4 521.4,213.4 521.6,213.3 521.8,214.4 522.1,215.8 522.3,216.8 522.5,217.3 523,217.6 523.6,217.8 523.9,217.7 524.1,217.5 524.3,216.7 524.8,214.4 525,214.2 525.2,215.1 525.4,216.5 525.7,217.6 525.9,218.2 526.1,218.4 526.6,218.5 526.8,218.2 527,217.4 527,219 526.8,218.9 512.6,215.3 498.4,211.8 484.3,208.5 470.1,205.2 455.9,202.1 441.7,199.1 427.6,196.2 413.4,193.4 399.2,190.7 385,188.2 370.9,185.8 356.7,183.5 342.5,181.3 328.3,179.3 314.2,177.3 300,175.5Z" fill="url(#r10)"/>
<path d="M454.6,220.8 454.6,220.3 454.8,220.3 455.1,219.9 455.3,219.4 455.8,217.9 456.3,216.1 456.8,213.9 457.2,211.5 457.7,208.7 458,207.3 458.2,207.4 458.7,210.5 459.2,213.3 459.6,215.9 460.1,218.2 460.6,220.1 460.8,220.9 461.1,221.5 461.3,222 461.6,222.2 461.6,222.7Z" fill="url(#r27)"/>
<path d="M448.7,219.4 448.7,218.7 449.3,218.8 449.6,217.3 449.9,216.3 450.2,215.5 450.5,214.8 450.8,214.3 451.1,214 451.4,213.7 451.7,213.5 452,213.5 452.3,213.5 452.6,213.6 453,213.9 453.3,214.2 453.6,214.7 453.9,215.2 454.2,215.9 454.5,216.8 454.8,217.8 455.1,219 455.4,220.5 460.8,222 461.1,220.6 461.4,219.6 461.7,218.7 462,218.1 462.3,217.6 462.6,217.2 462.9,216.9 463.2,216.7 463.5,216.6 463.8,216.6 464.1,216.8 464.4,217 464.7,217.3 465,217.7 465.3,218.3 465.6,219 465.9,219.8 466.2,220.7 466.5,221.9 466.8,223.6 467.4,223.8 467.4,224.5Z" fill="url(#r26)"/>
<path d="M278.5,178.5 279.2,177.7 279.9,178.1 280.6,178.7 281.4,179.5 282.1,180.3 282.8,181.1 284.2,183 285.6,184.9 287.1,187 288.5,189.1 289.9,191.4 291.4,193.6 292.8,196 294.2,198.4 295.6,200.9 297.1,203.4 298.5,206 299.9,208.6 301.4,211.4 302.8,214.2 304.2,217.2 304.9,218.7 305.6,220.3 306.4,222 307.1,223.8 307.8,225.8 308.5,229 308.5,229.6 278.5,179.1Z" fill="url(#r42)"/>
<path d="M480.7,227.9 480.7,227.4 481,227.4 481.2,227 481.4,226.5 481.9,225.1 482.4,223.2 482.9,221.1 483.4,218.6 483.8,215.9 484.1,214.4 484.3,214.5 484.8,217.6 485.3,220.5 485.8,223 486.2,225.3 486.7,227.2 487,228 487.2,228.7 487.4,229.2 487.7,229.3 487.7,229.8Z" fill="url(#r29)"/>
<line x1="344.8" y1="190.3" x2="493.4" y2="230.9" stroke="#5a7ce0" stroke-width="0.7" opacity="0.3"/>
<path d="M474.8,226.5 474.8,225.8 475.4,225.9 475.7,224.4 476.1,223.4 476.4,222.6 476.7,221.9 477,221.4 477.3,221.1 477.6,220.8 477.9,220.6 478.2,220.6 478.5,220.6 478.8,220.8 479.1,221.1 479.4,221.4 479.7,221.9 480,222.5 480.3,223.2 480.6,224 480.9,225.1 481.5,227.6 486.7,229.1 487,228.8 487.3,227.4 487.6,226.4 487.9,225.6 488.2,225 488.5,224.5 488.8,224.2 489.1,223.9 489.4,223.8 489.7,223.7 490,223.8 490.4,224 490.7,224.2 491,224.6 491.3,225.1 491.6,225.7 491.9,226.4 492.2,227.3 492.5,228.4 492.8,229.7 493.1,230.8 493.4,230.9 493.4,231.6Z" fill="url(#r28)"/>
<path d="M277,171.8 L364.6,242.5" fill="none" stroke="#4f86e6" stroke-width="1.3" opacity="0.8"/>
<path d="M277,171.2 286.9,179.2 287.2,179.3 287.5,179 287.7,178.4 287.8,178.3 288.1,179.1 288.3,180 288.7,180.6 290.6,182.1 290.9,182.2 291.2,181.5 291.4,180.7 291.5,180.8 291.9,182.7 292.1,183.3 293.4,184.4 293.8,184.5 294.2,183.6 294.3,183.4 294.4,183.6 294.8,185.1 295,185.6 297,187.3 297.3,187.4 297.5,186.8 297.7,185.7 297.9,185.4 298,185.7 298.3,187.9 298.6,188.5 299.8,189.5 300,189.6 300.2,189.2 300.5,187.8 300.6,187.3 300.7,187.3 300.8,188 301.1,189.8 301.2,190.3 301.4,190.9 303,192.1 303.2,192.2 303.3,192.1 303.5,191.8 303.8,189.4 303.9,189.3 304.1,189.9 304.3,192 304.4,192.8 304.7,193.4 306,194.5 306.2,194.6 306.4,194.1 306.7,192.7 306.8,192.3 306.9,192.4 307.3,194.9 307.5,195.7 309.8,197.6 310,197.7 310.1,197.5 310.3,197.1 310.5,195.3 310.6,194.7 310.7,194.8 310.8,195.6 311.1,197.7 311.2,198.4 311.4,198.9 312.4,199.7 312.6,199.7 312.8,199.4 312.9,198.7 313.1,196.2 313.2,195.3 313.4,195.4 313.5,196.5 313.7,199.5 313.8,200.3 314.1,201 315.9,202.5 316.1,202.6 316.2,202.5 316.3,202 316.6,200.2 316.7,199.5 316.8,199.4 316.9,200.2 317.2,202.4 317.3,203.2 317.5,203.8 319,205 319.2,205 319.3,204.8 319.4,204 319.5,202.8 319.7,201.2 319.8,200 319.9,199.9 320,201 320.3,204.4 320.4,205.4 320.5,206 321.1,206.8 321.8,207.3 322.1,207.3 322.2,206.9 322.3,206 322.5,202.8 322.6,201.7 322.8,201.9 322.9,203.3 323,205.2 323.1,206.8 323.2,207.8 323.4,208.4 324.8,209.7 325.2,209.9 325.3,209.6 325.4,208.9 325.5,207.7 325.6,206.1 325.7,205 325.9,204.9 326,205.9 326.2,209.2 326.3,210.2 326.5,210.8 326.9,211.5 328.1,212.4 328.4,212.2 328.5,211.7 328.6,210.6 328.8,207.8 329,207.3 329.1,208.1 329.3,211.3 329.4,212.6 329.6,213.2 329.8,213.8 331.9,215.5 332.2,215.5 332.3,215.3 332.4,214.5 332.5,213.1 332.7,211.3 332.8,209.7 332.9,209.2 333,210.2 333.3,214.2 333.4,215.6 333.5,216.4 333.7,216.9 335.2,218.1 335.4,218 335.5,217.6 335.6,216.5 335.8,214.7 335.9,212.6 336,211.2 336.1,211.3 336.2,212.9 336.4,215.2 336.5,217.2 336.6,218.4 336.7,219.1 337.1,219.6 338,220.4 338.3,220.1 338.4,219.4 338.5,217.7 338.7,212.4 338.9,210.8 339,211.3 339.1,213.6 339.2,216.7 339.3,219.1 339.5,220.6 339.6,221.4 339.8,221.8 341.2,223 341.5,222.9 341.6,222.5 341.7,221.5 342,217.9 342.1,216.7 342.2,216.9 342.3,218.5 342.4,220.6 342.6,222.3 342.7,223.5 342.8,224 344.1,225.3 344.5,225.5 344.6,225.2 344.7,224.4 344.8,222.7 345.1,217.3 345.2,215.8 345.3,216.4 345.4,218.8 345.5,221.8 345.6,224.3 345.8,225.8 345.9,226.5 346.2,227.1 347.2,227.8 347.3,227.8 347.4,227.5 347.6,226.6 347.7,225.1 347.8,223 347.9,221.2 348,220.6 348.2,221.7 348.4,226 348.5,227.6 348.6,228.5 348.9,229.1 350.8,230.7 351,230.8 351.1,230.6 351.3,229.8 351.4,228.1 351.5,225.5 351.6,222.5 351.7,220.7 351.8,221 352,223.4 352.1,226.5 352.2,229.2 352.3,230.9 352.4,231.7 352.7,232.2 353.5,232.9 353.6,232.8 353.8,232.5 353.9,231.4 354,229.4 354.2,223.7 354.4,222.4 354.5,223.5 354.6,226.3 354.7,229.5 354.8,231.9 354.9,233.3 355.1,233.9 356.4,235.2 356.7,235.4 356.9,235.3 357,234.6 357.1,232.9 357.2,229.9 357.3,226.1 357.4,222.9 357.6,222 357.7,224.1 357.9,231.8 358,234.5 358.2,235.9 358.3,236.6 359.8,238 360.2,238.2 360.3,238 360.4,237.3 360.5,235.8 360.8,230.8 360.9,229.2 361,229.6 361.1,231.8 361.3,234.6 361.4,237 361.5,238.4 361.6,239.2 361.9,239.6 363.4,240.9 363.6,240.9 363.8,240.7 363.9,239.8 364,238 364.2,232.8 364.4,231.5 364.5,232.3 364.6,234.8 364.6,242.5 277,171.8Z" fill="url(#r36)"/>
<path d="M277,171 275.2,173.8 273.4,172.2 272.3,171.2 270.9,169.6 269.3,168.2 268.6,167.5 267.9,166.8 267.5,166.9 267.3,167.3 267.1,168 267,169.2 266.8,169.8 266.5,170.1 266,170.3 265.7,170.6 265.3,171.7 265,172.1 264.1,172.3 263.8,172.6 263.6,173.2 263.5,174.4 263.3,175 262.5,175.7 262.3,176.1 262,177.3 261.7,177.8 261.4,177.9 260.8,177.9 260.4,178.1 260.2,178.6 259.9,179.9 259.7,180.3 259,180.8 258.8,181.3 258.6,182.8 258.4,183.4 258.1,183.6 257.3,183.6 257,183.9 256.6,185.1 256.4,185.5 255.7,185.8 255.4,186.2 255.2,186.8 255.1,188 255,188.7 254.7,189 253.9,189.3 253.7,189.6 253.3,190.7 253,191 252.2,191.2 251.9,191.4 251.7,192 251.5,193.5 251.3,194.1 250.5,194.7 250.3,195.2 250,196.4 249.7,196.7 248.7,196.8 248.4,197.1 248,198.7 247.8,199.2 247.2,199.7 246.9,200.2 246.6,201.9 246.4,202.4 246,202.5 245.4,202.5 245.1,202.7 244.6,204.1 244.3,204.5 243.7,204.9 243.4,205.3 243.2,207.2 243,207.8 242.7,208 242.1,208.1 241.8,208.4 241.3,209.7 241,210 240.2,210.2 239.9,210.5 239.8,211.1 239.6,212.4 239.5,213 239,213.4 238.5,213.7 238.2,214.5 238,215.4 237.7,215.7 236.8,215.7 236.5,215.9 236.3,216.4 236.1,217.5 236,218.1 235.2,218.8 235,219.3 234.7,220.7 234.5,221.2 234.2,221.4 233.5,221.3 233.2,221.5 232.9,222 232.7,222.9 232.5,223.4 231.7,223.9 231.5,224.4 231.3,226 231.1,226.6 230.8,226.9 230,227.1 229.7,227.4 229.4,228.5 229.1,228.8 228.4,229.1 228,229.3 227.9,229.9 227.7,231.6 227.5,232.1 226.7,232.6 226.4,233 226.1,234.2 225.8,234.5 224.8,234.6 224.5,234.9 224.2,236.7 224,237.2 223.4,237.7 223.1,238.1 222.7,239.8 222.5,240.2 221.5,240.2 221.1,240.5 220.7,242 220.5,242.4 219.8,242.9 219.6,243.3 219.3,245.2 219.1,245.7 219,245.8 217.9,243.8 218.5,245.8 218.4,245.9 218.4,258 223,257.5 277,171Z" fill="url(#r41)"/>
<path d="M269.8,170.6 267.5,173.3 267.2,173.1 266.2,171.9 264.3,169.7 262.5,167.8 261.8,166.9 260.2,164.6 259.8,164.1 259.5,164 259.3,164.7 259,166 258.7,166.6 258.4,166.8 257.7,167 257.4,167.3 256.9,168.5 256.5,168.8 255.4,168.8 255,169.1 254.8,169.7 254.5,170.9 254.2,171.5 253.3,172.1 253,172.6 252.5,174 252.2,174.4 251.8,174.4 251,174.3 250.7,174.5 250.4,175 250,176 249.7,176.5 248.9,176.9 248.6,177.3 248.4,178 248.1,179.3 247.8,179.8 247.4,179.9 246.7,179.8 246.3,180 245.6,181.4 245.3,181.7 244.4,181.9 244.1,182.2 243.9,183 243.6,184.3 243.4,184.9 243,185.1 242.4,185.3 242,185.5 241.5,186.7 241.1,187.1 240.7,187.1 240,187.1 239.6,187.3 239.4,188 239.1,189.2 238.9,189.8 238.5,190.1 237.9,190.4 237.6,190.9 237.1,192.2 236.8,192.6 236.4,192.7 235.6,192.5 235.2,192.7 235,193.2 234.6,194.3 234.3,194.8 233.4,195.4 233.1,195.9 232.7,197.5 232.4,198 232,198.2 231.3,198.1 230.9,198.2 230.6,198.7 230.2,199.6 229.9,200 229.1,200.2 228.7,200.5 228.5,201.2 228.2,202.5 228,203.2 227.6,203.5 227,203.6 226.6,203.8 225.9,205.1 225.5,205.4 224.6,205.4 224.2,205.6 224,206.2 223.7,207.5 223.5,208.1 223.1,208.5 222.5,208.8 222.2,209.1 221.7,210.4 221.4,210.9 221,211 220.3,210.8 219.8,210.9 219.5,211.4 219.1,212.8 218.8,213.3 218,213.7 217.7,214.2 217.3,215.7 217,216.3 216.7,216.5 215.7,216.4 215.3,216.6 214.7,218 214.3,218.4 213.5,218.7 213.2,219.1 212.7,221.2 212.4,221.7 212,221.9 211.4,221.9 211,222.2 210.5,223.3 210.1,223.6 209,223.7 208.7,224.1 208.5,224.8 208.2,226.1 207.9,226.7 207.6,227 207,227.2 206.7,227.6 206.2,228.8 205.8,229.2 205.4,229.2 204.6,229.1 204.3,229.3 204,229.9 203.7,231.1 203.4,231.6 202.7,232.1 202.3,232.5 201.8,234.3 201.5,234.7 201,234.8 200.3,234.6 199.9,234.8 199.6,235.3 199.3,236.3 198.9,236.7 198.1,237 197.8,237.4 197.6,238.1 197.3,239.4 197.1,240 196.7,240.2 196,240.2 195.6,240.4 194.9,241.7 194.5,242 193.7,242 193.3,242.4 193.1,243 192.8,244.4 192.6,245 192.2,245.3 191.6,245.5 191.2,245.8 191,246.4 190.2,244.6 190.7,246.9 190.6,247.3 190.6,260.7 194.8,260.3 269.8,170.6Z" fill="url(#r40)"/></g>
<line x1="47.5" y1="113.5" x2="47.5" y2="61" stroke="#5c5c5c" stroke-width="0.7"/>
<line x1="47.5" y1="113.5" x2="147.8" y2="268.5" stroke="#5c5c5c" stroke-width="0.7"/>
<line x1="147.8" y1="268.5" x2="540.8" y2="229.2" stroke="#5c5c5c" stroke-width="0.7"/>
<line x1="47.5" y1="113.5" x2="41.5" y2="105.7" stroke="#5c5c5c" stroke-width="0.7"/>
<text x="39.9" y="107.2" text-anchor="end" font-size="10" fill="#262626">0</text>
<line x1="47.5" y1="87.2" x2="41.5" y2="79.5" stroke="#5c5c5c" stroke-width="0.7"/>
<text x="39.9" y="81" text-anchor="end" font-size="10" fill="#262626">0.5</text>
<line x1="47.5" y1="61" x2="41.5" y2="53.2" stroke="#5c5c5c" stroke-width="0.7"/>
<text x="39.9" y="54.7" text-anchor="end" font-size="10" fill="#262626">1</text>
<line x1="57.3" y1="128.7" x2="47.8" y2="129.6" stroke="#5c5c5c" stroke-width="0.7"/>
<text x="43.7" y="140.9" text-anchor="end" font-size="10" fill="#262626">300</text>
<line x1="76.6" y1="158.5" x2="67.1" y2="159.4" stroke="#5c5c5c" stroke-width="0.7"/>
<text x="63" y="170.7" text-anchor="end" font-size="10" fill="#262626">400</text>
<line x1="95.9" y1="188.3" x2="86.4" y2="189.2" stroke="#5c5c5c" stroke-width="0.7"/>
<text x="82.3" y="200.5" text-anchor="end" font-size="10" fill="#262626">500</text>
<line x1="115.2" y1="218.1" x2="105.7" y2="219" stroke="#5c5c5c" stroke-width="0.7"/>
<text x="101.6" y="230.3" text-anchor="end" font-size="10" fill="#262626">600</text>
<line x1="134.5" y1="247.9" x2="125" y2="248.8" stroke="#5c5c5c" stroke-width="0.7"/>
<text x="120.9" y="260.1" text-anchor="end" font-size="10" fill="#262626">700</text>
<line x1="193.7" y1="263.9" x2="198.9" y2="272.3" stroke="#5c5c5c" stroke-width="0.7"/>
<text x="201.2" y="285.4" font-size="10" fill="#262626">700</text>
<line x1="259.2" y1="257.3" x2="264.4" y2="265.7" stroke="#5c5c5c" stroke-width="0.7"/>
<text x="266.7" y="278.8" font-size="10" fill="#262626">600</text>
<line x1="324.7" y1="250.8" x2="329.9" y2="259.2" stroke="#5c5c5c" stroke-width="0.7"/>
<text x="332.2" y="272.3" font-size="10" fill="#262626">500</text>
<line x1="390.2" y1="244.2" x2="395.4" y2="252.6" stroke="#5c5c5c" stroke-width="0.7"/>
<text x="397.7" y="265.7" font-size="10" fill="#262626">400</text>
<line x1="455.7" y1="237.7" x2="460.9" y2="246.1" stroke="#5c5c5c" stroke-width="0.7"/>
<text x="463.2" y="259.2" font-size="10" fill="#262626">300</text>
<line x1="521.2" y1="231.1" x2="526.4" y2="239.5" stroke="#5c5c5c" stroke-width="0.7"/>
<text x="528.7" y="252.6" font-size="10" fill="#262626">200</text>
<text x="299.5" y="291.5" text-anchor="middle" font-size="11.5" fill="#262626">X [m]</text>
<text x="68.5" y="262.5" text-anchor="middle" font-size="11.5" fill="#262626">Y [m]</text>
<text transform="translate(16.3,87.8) rotate(-90)" text-anchor="middle" font-size="11.5" fill="#262626">Normalized score</text>
<text x="292.5" y="16.6" text-anchor="middle" font-size="11.5" font-weight="bold" fill="#000">Localization result</text>
<linearGradient id="spk" x1="0" y1="0" x2="0" y2="1"><stop offset="0" stop-color="#a4a848"/><stop offset="1" stop-color="#ccd038"/></linearGradient>
<rect x="272.023" y="121.6" width="1.15" height="38.6" fill="url(#spk)"/>
<rect x="248.9" y="100.2" width="20.8" height="18.2" fill="#fffee8" stroke="#a8a8a0" stroke-width="0.5"/>
<text font-size="4.15" fill="#000" stroke="#000" stroke-width="0.08"><tspan x="251" y="105.6">X: 500</tspan><tspan x="251" y="111.25">Y: 500</tspan><tspan x="251" y="116.9">Z: 0.9343</tspan></text>
<rect x="271" y="119.8" width="3.2" height="3.2" fill="#111" stroke="#cfcfcf" stroke-width="0.35"/>
</svg>
</body></html>
